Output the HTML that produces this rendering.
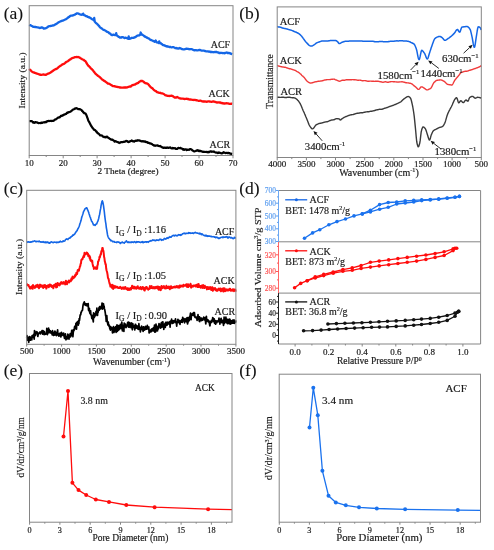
<!DOCTYPE html>
<html><head><meta charset="utf-8"><title>Figure</title>
<style>html,body{margin:0;padding:0;background:#fff;width:494px;height:550px;overflow:hidden}svg{display:block}text{stroke:currentColor;stroke-width:0.18px}</style>
</head><body>
<svg width="494" height="550" viewBox="0 0 494 550" font-family='"Liberation Serif", "Times New Roman", serif'>
<rect width="494" height="550" fill="#fff"/>
<text x="3.7" y="18.6" font-size="17.5" text-anchor="start" fill="#111" color="#111" style="stroke-width:0.1px">(a)</text>
<line x1="29.2" y1="155.5" x2="29.2" y2="158.3" stroke="#858585" stroke-width="1.0"/>
<text x="29.2" y="166.3" font-size="9" text-anchor="middle" fill="#1a1a1a" color="#1a1a1a">10</text>
<line x1="63.2" y1="155.5" x2="63.2" y2="158.3" stroke="#858585" stroke-width="1.0"/>
<text x="63.2" y="166.3" font-size="9" text-anchor="middle" fill="#1a1a1a" color="#1a1a1a">20</text>
<line x1="97.1" y1="155.5" x2="97.1" y2="158.3" stroke="#858585" stroke-width="1.0"/>
<text x="97.1" y="166.3" font-size="9" text-anchor="middle" fill="#1a1a1a" color="#1a1a1a">30</text>
<line x1="131.1" y1="155.5" x2="131.1" y2="158.3" stroke="#858585" stroke-width="1.0"/>
<text x="131.1" y="166.3" font-size="9" text-anchor="middle" fill="#1a1a1a" color="#1a1a1a">40</text>
<line x1="165.1" y1="155.5" x2="165.1" y2="158.3" stroke="#858585" stroke-width="1.0"/>
<text x="165.1" y="166.3" font-size="9" text-anchor="middle" fill="#1a1a1a" color="#1a1a1a">50</text>
<line x1="199" y1="155.5" x2="199" y2="158.3" stroke="#858585" stroke-width="1.0"/>
<text x="199" y="166.3" font-size="9" text-anchor="middle" fill="#1a1a1a" color="#1a1a1a">60</text>
<line x1="233" y1="155.5" x2="233" y2="158.3" stroke="#858585" stroke-width="1.0"/>
<text x="233" y="166.3" font-size="9" text-anchor="middle" fill="#1a1a1a" color="#1a1a1a">70</text>
<line x1="46.2" y1="155.5" x2="46.2" y2="157" stroke="#858585" stroke-width="1.0"/>
<line x1="80.2" y1="155.5" x2="80.2" y2="157" stroke="#858585" stroke-width="1.0"/>
<line x1="114.1" y1="155.5" x2="114.1" y2="157" stroke="#858585" stroke-width="1.0"/>
<line x1="148.1" y1="155.5" x2="148.1" y2="157" stroke="#858585" stroke-width="1.0"/>
<line x1="182" y1="155.5" x2="182" y2="157" stroke="#858585" stroke-width="1.0"/>
<line x1="216" y1="155.5" x2="216" y2="157" stroke="#858585" stroke-width="1.0"/>
<text x="128" y="174.2" font-size="9.26" text-anchor="middle" fill="#1a1a1a" color="#1a1a1a">2 Theta (degree)</text>
<text transform="translate(24.9 80.4) rotate(-90) scale(1 0.86)" font-size="9.6" text-anchor="middle" fill="#1a1a1a" color="#1a1a1a">Intensity (a.u.)</text>
<path d="M29.2 24.9 L29.7 25.2 L30.2 25.2 L30.7 25.2 L31.2 25.8 L31.7 25.8 L32.2 26.2 L32.7 26.4 L33.2 26.8 L33.7 26.9 L34.2 26.8 L34.7 27 L35.2 27 L35.7 27 L36.2 27.2 L36.7 27.2 L37.2 27.4 L37.7 27.4 L38.2 27.4 L38.7 27.7 L39.2 27.7 L39.7 28 L40.2 27.9 L40.7 27.8 L41.2 27.4 L41.7 27.5 L42.2 27.5 L42.7 27.8 L43.2 28.1 L43.7 28.5 L44.2 28.5 L44.7 28.4 L45.2 28.3 L45.7 28.3 L46.2 28 L46.7 27.8 L47.2 27.4 L47.7 27 L48.2 26.6 L48.7 26.3 L49.2 26.2 L49.7 26.1 L50.2 26.1 L50.7 25.9 L51.2 25.8 L51.7 25.8 L52.2 25.6 L52.7 25.5 L53.2 25.5 L53.7 25.3 L54.2 25.2 L54.7 24.7 L55.2 24.6 L55.7 24.3 L56.2 23.9 L56.7 23.8 L57.2 23.3 L57.7 22.9 L58.2 22.6 L58.7 22.3 L59.2 22 L59.7 21.8 L60.2 21.5 L60.7 21.3 L61.2 21 L61.7 21 L62.2 20.7 L62.7 20.7 L63.2 20.5 L63.7 20.2 L64.2 20 L64.7 19.8 L65.2 19.5 L65.7 19.3 L66.2 19.1 L66.7 18.7 L67.2 18.2 L67.7 17.9 L68.2 17.3 L68.7 17.1 L69.2 16.9 L69.7 16.4 L70.2 16 L70.7 15.7 L71.2 15.7 L71.7 15.7 L72.2 15.6 L72.7 15.4 L73.2 15.3 L73.7 15.2 L74.2 14.8 L74.7 14.7 L75.2 14.4 L75.7 13.9 L76.2 13.9 L76.7 13.3 L77.2 13.3 L77.7 13.3 L78.2 13.6 L78.7 13.6 L79.2 14 L79.7 14.3 L80.2 14.5 L80.7 14.6 L81.2 14.7 L81.7 14.8 L82.2 14.5 L82.7 14.6 L83.2 13.6 L83.7 15 L84.2 15.2 L84.7 15.4 L85.2 15.5 L85.7 16 L86.2 16.1 L86.7 16.1 L87.2 16.6 L87.7 16.9 L88.2 16.9 L88.7 17.3 L89.2 17.6 L89.7 17.5 L90.2 17.7 L90.7 18.2 L91.2 18.6 L91.7 18.9 L92.2 19.3 L92.7 19.5 L93.2 19.7 L93.7 20.3 L94.2 17.9 L94.7 21.5 L95.2 22.2 L95.7 22.7 L96.2 23.3 L96.7 23.5 L97.2 24.1 L97.7 24.5 L98.2 25.1 L98.7 25.6 L99.2 26.1 L99.7 26.9 L100.2 27.5 L100.7 27.7 L101.2 28.2 L101.7 28.5 L102.2 28.8 L102.7 29.3 L103.2 29.7 L103.7 29.9 L104.2 30 L104.7 30.2 L105.2 30.5 L105.7 30.7 L106.2 31.3 L106.7 31.6 L107.2 31.9 L107.7 31.9 L108.2 32.3 L108.7 32.6 L109.2 33.2 L109.7 33.4 L110.2 33.6 L110.7 34.2 L111.2 34.8 L111.7 35 L112.2 35.1 L112.7 35 L113.2 34.7 L113.7 34.7 L114.2 34.8 L114.7 35 L115.2 35.1 L115.7 35.2 L116.2 33.2 L116.7 35.5 L117.2 35.7 L117.7 36 L118.2 36.6 L118.7 36.9 L119.2 37 L119.7 37.4 L120.2 37.7 L120.7 37.5 L121.2 37.6 L121.7 37.4 L122.2 37.1 L122.7 37.1 L123.2 37.3 L123.7 37.5 L124.2 38 L124.7 38 L125.2 37.7 L125.7 37.7 L126.2 37.9 L126.7 38.1 L127.2 38.3 L127.7 38.5 L128.2 38.9 L128.7 36.4 L129.2 38.9 L129.7 38.7 L130.2 38.6 L130.7 38.6 L131.2 38 L131.7 38 L132.2 37.8 L132.7 37.9 L133.2 37.9 L133.7 37.6 L134.2 37.6 L134.7 37.4 L135.2 37.1 L135.7 36.9 L136.2 36.5 L136.7 36.1 L137.2 35.8 L137.7 35.6 L138.2 35.5 L138.7 35.3 L139.2 35.4 L139.7 35.1 L140.2 34.7 L140.7 32.5 L141.2 34.6 L141.7 34.2 L142.2 34.6 L142.7 35 L143.2 35.2 L143.7 35.7 L144.2 36.1 L144.7 36.5 L145.2 36.6 L145.7 36.9 L146.2 37.2 L146.7 37.4 L147.2 37.9 L147.7 38 L148.2 38.2 L148.7 38.4 L149.2 38.8 L149.7 39.2 L150.2 39.7 L150.7 39.9 L151.2 40.1 L151.7 40.2 L152.2 40.5 L152.7 40.7 L153.2 41 L153.7 41.1 L154.2 41.4 L154.7 41.8 L155.2 41.6 L155.7 40.5 L156.2 41.9 L156.7 42.3 L157.2 42.3 L157.7 42.4 L158.2 42.7 L158.7 43 L159.2 41.4 L159.7 43.1 L160.2 43.1 L160.7 43.1 L161.2 43.7 L161.7 44 L162.2 44.3 L162.7 44.9 L163.2 45.1 L163.7 45.1 L164.2 45.4 L164.7 45.4 L165.2 45.9 L165.7 46 L166.2 46.3 L166.7 46.2 L167.2 46.6 L167.7 46.5 L168.2 46.7 L168.7 46.7 L169.2 46.9 L169.7 47.1 L170.2 46.8 L170.7 47.1 L171.2 47.3 L171.7 47.3 L172.2 47.3 L172.7 47.1 L173.2 47.2 L173.7 47.2 L174.2 47.5 L174.7 47.7 L175.2 48.1 L175.7 48.2 L176.2 48.3 L176.7 48 L177.2 48.3 L177.7 48.5 L178.2 48.6 L178.7 48.4 L179.2 48.2 L179.7 48 L180.2 48.4 L180.7 48.3 L181.2 48.8 L181.7 49 L182.2 49.1 L182.7 49.2 L183.2 49.4 L183.7 49.3 L184.2 49.4 L184.7 49.2 L185.2 49.1 L185.7 48.9 L186.2 48.9 L186.7 48.6 L187.2 48.8 L187.7 48.8 L188.2 48.9 L188.7 49.1 L189.2 49.1 L189.7 49.3 L190.2 49.2 L190.7 49.2 L191.2 49.1 L191.7 49.2 L192.2 49.3 L192.7 49.5 L193.2 50 L193.7 50.2 L194.2 50.2 L194.7 50.4 L195.2 50.1 L195.7 50.2 L196.2 50.2 L196.7 50.3 L197.2 50.3 L197.7 50.4 L198.2 50.2 L198.7 50.1 L199.2 50 L199.7 49.9 L200.2 50.1 L200.7 50.2 L201.2 50.5 L201.7 50.7 L202.2 50.7 L202.7 50.6 L203.2 50.6 L203.7 50.7 L204.2 50.7 L204.7 50.9 L205.2 51.1 L205.7 51.2 L206.2 51.4 L206.7 51.4 L207.2 51.3 L207.7 51.3 L208.2 51.5 L208.7 51.6 L209.2 51.8 L209.7 51.6 L210.2 51.6 L210.7 52 L211.2 52.1 L211.7 52 L212.2 52 L212.7 52.2 L213.2 52.1 L213.7 52.3 L214.2 52.1 L214.7 52.1 L215.2 51.8 L215.7 51.9 L216.2 52.1 L216.7 52 L217.2 52.3 L217.7 52.4 L218.2 52.5 L218.7 52.6 L219.2 53 L219.7 53 L220.2 53.1 L220.7 52.8 L221.2 52.8 L221.7 52.8 L222.2 53.1 L222.7 53.2 L223.2 53.1 L223.7 53.1 L224.2 53 L224.7 53.3 L225.2 53 L225.7 52.8 L226.2 52.7 L226.7 52.5 L227.2 52.6 L227.7 53 L228.2 53 L228.7 53 L229.2 53 L229.7 53.3 L230.2 53.6 L230.7 53.5 L231.2 53.9 L231.7 54 L232.2 54.2" fill="none" stroke="#1466e6" stroke-width="2.3" stroke-linejoin="round"/>
<path d="M29.2 69 L29.7 69.5 L30.2 70 L30.7 70.2 L31.2 71 L31.7 71.5 L32.2 71.7 L32.7 72.1 L33.2 72.3 L33.7 72.4 L34.2 72.6 L34.7 72.9 L35.2 72.8 L35.7 73.2 L36.2 73.4 L36.7 73.5 L37.2 73.7 L37.7 73.8 L38.2 74 L38.7 74.2 L39.2 74.4 L39.7 74.5 L40.2 74.9 L40.7 74.7 L41.2 74.9 L41.7 74.8 L42.2 74.7 L42.7 74.7 L43.2 74.4 L43.7 74.6 L44.2 74.7 L44.7 74.6 L45.2 74.9 L45.7 74.7 L46.2 74.8 L46.7 74.3 L47.2 74.1 L47.7 73.8 L48.2 73.6 L48.7 73.6 L49.2 73.3 L49.7 73 L50.2 72.7 L50.7 72.3 L51.2 72.1 L51.7 71.6 L52.2 71.4 L52.7 71 L53.2 70.6 L53.7 70.2 L54.2 69.9 L54.7 69.7 L55.2 69.3 L55.7 69.1 L56.2 69 L56.7 68.7 L57.2 68.4 L57.7 68 L58.2 67.4 L58.7 67.1 L59.2 66.7 L59.7 66.3 L60.2 65.9 L60.7 65.8 L61.2 65.2 L61.7 65 L62.2 64.4 L62.7 64.3 L63.2 64.1 L63.7 64 L64.2 63.8 L64.7 63.3 L65.2 62.9 L65.7 62.4 L66.2 62 L66.7 61.7 L67.2 61.5 L67.7 61.2 L68.2 60.9 L68.7 60.5 L69.2 60.1 L69.7 59.8 L70.2 59.4 L70.7 59.2 L71.2 58.7 L71.7 58.3 L72.2 58.2 L72.7 57.9 L73.2 57.8 L73.7 57.7 L74.2 57.5 L74.7 57.1 L75.2 57.1 L75.7 57.2 L76.2 57.1 L76.7 57 L77.2 57 L77.7 57.2 L78.2 57 L78.7 57.2 L79.2 57.4 L79.7 57.6 L80.2 58 L80.7 58.3 L81.2 58.7 L81.7 58.9 L82.2 59.3 L82.7 59.5 L83.2 59.7 L83.7 59.9 L84.2 60.4 L84.7 60.7 L85.2 61 L85.7 61.6 L86.2 62.3 L86.7 63.4 L87.2 64.2 L87.7 64.8 L88.2 65.6 L88.7 66 L89.2 66.4 L89.7 67 L90.2 67.6 L90.7 68.2 L91.2 68.7 L91.7 69 L92.2 69.7 L92.7 70.1 L93.2 70.7 L93.7 71.4 L94.2 72 L94.7 72.7 L95.2 73.3 L95.7 73.9 L96.2 74.3 L96.7 74.8 L97.2 75.3 L97.7 75.6 L98.2 76 L98.7 76.2 L99.2 76.7 L99.7 77.1 L100.2 77.5 L100.7 78 L101.2 78.5 L101.7 79.1 L102.2 79.5 L102.7 79.8 L103.2 80.3 L103.7 80.6 L104.2 80.9 L104.7 81.1 L105.2 81.4 L105.7 81.8 L106.2 82.2 L106.7 82.5 L107.2 83 L107.7 83.4 L108.2 83.7 L108.7 83.7 L109.2 83.8 L109.7 84.1 L110.2 84.3 L110.7 84.7 L111.2 85 L111.7 85.3 L112.2 85.8 L112.7 86.1 L113.2 86.1 L113.7 86.2 L114.2 86.1 L114.7 86.4 L115.2 86.4 L115.7 86.6 L116.2 86.7 L116.7 86.8 L117.2 86.8 L117.7 87 L118.2 87.1 L118.7 87.2 L119.2 87.2 L119.7 87.5 L120.2 87.5 L120.7 87.5 L121.2 87.7 L121.7 87.7 L122.2 87.7 L122.7 87.7 L123.2 87.7 L123.7 87.4 L124.2 87.4 L124.7 87.6 L125.2 87.3 L125.7 87.5 L126.2 87.5 L126.7 87.4 L127.2 87.3 L127.7 87.3 L128.2 86.8 L128.7 86.8 L129.2 86.7 L129.7 86.6 L130.2 86.4 L130.7 86.5 L131.2 86.1 L131.7 85.6 L132.2 85.3 L132.7 85.1 L133.2 85 L133.7 84.8 L134.2 84.7 L134.7 84.6 L135.2 84.4 L135.7 84.1 L136.2 83.7 L136.7 83.6 L137.2 83.2 L137.7 83.1 L138.2 82.9 L138.7 82.3 L139.2 81.9 L139.7 81.7 L140.2 81.3 L140.7 81 L141.2 80.9 L141.7 81.1 L142.2 81 L142.7 81.1 L143.2 81.5 L143.7 81.8 L144.2 82.4 L144.7 82.8 L145.2 83.1 L145.7 83.3 L146.2 83.2 L146.7 83.4 L147.2 83.6 L147.7 83.8 L148.2 84.2 L148.7 84.8 L149.2 85.4 L149.7 86 L150.2 86.6 L150.7 87.1 L151.2 87.5 L151.7 87.9 L152.2 88.1 L152.7 88.6 L153.2 89.2 L153.7 89.7 L154.2 90.2 L154.7 90.6 L155.2 90.8 L155.7 91 L156.2 91.3 L156.7 91.9 L157.2 92.2 L157.7 92.3 L158.2 92.4 L158.7 92.7 L159.2 92.8 L159.7 92.8 L160.2 93.1 L160.7 93 L161.2 93.2 L161.7 93.4 L162.2 93.3 L162.7 93.5 L163.2 93.8 L163.7 94 L164.2 94.2 L164.7 94.7 L165.2 95.2 L165.7 95.3 L166.2 95.4 L166.7 95.6 L167.2 95.7 L167.7 95.9 L168.2 95.9 L168.7 95.8 L169.2 96.1 L169.7 95.8 L170.2 95.8 L170.7 95.8 L171.2 95.7 L171.7 95.7 L172.2 95.9 L172.7 96.1 L173.2 96.4 L173.7 96.8 L174.2 97.2 L174.7 97.5 L175.2 97.6 L175.7 97.5 L176.2 97.5 L176.7 97.4 L177.2 97 L177.7 97.3 L178.2 97.5 L178.7 97.7 L179.2 98.2 L179.7 98.3 L180.2 98.4 L180.7 98.5 L181.2 98.7 L181.7 98.7 L182.2 98.6 L182.7 98.7 L183.2 98.7 L183.7 98.8 L184.2 98.9 L184.7 99 L185.2 98.9 L185.7 98.9 L186.2 98.8 L186.7 98.7 L187.2 98.9 L187.7 99.1 L188.2 99 L188.7 99.4 L189.2 99.4 L189.7 99.5 L190.2 99.4 L190.7 99.6 L191.2 99.6 L191.7 99.7 L192.2 99.8 L192.7 99.9 L193.2 99.8 L193.7 100 L194.2 99.9 L194.7 99.8 L195.2 100 L195.7 100.1 L196.2 100.1 L196.7 100.4 L197.2 100.3 L197.7 100.5 L198.2 100.7 L198.7 100.9 L199.2 100.9 L199.7 100.7 L200.2 100.6 L200.7 100.7 L201.2 100.9 L201.7 101.2 L202.2 101.3 L202.7 101.4 L203.2 101.6 L203.7 101.5 L204.2 101.5 L204.7 101.4 L205.2 101.5 L205.7 101.6 L206.2 101.7 L206.7 101.8 L207.2 101.7 L207.7 101.4 L208.2 101.4 L208.7 101.4 L209.2 101.4 L209.7 101.6 L210.2 101.6 L210.7 101.7 L211.2 101.8 L211.7 101.8 L212.2 101.7 L212.7 101.6 L213.2 101.4 L213.7 101.4 L214.2 101.7 L214.7 101.7 L215.2 102 L215.7 102.1 L216.2 102.3 L216.7 102.5 L217.2 102.5 L217.7 102.4 L218.2 102.4 L218.7 102.4 L219.2 102.5 L219.7 102.4 L220.2 102.5 L220.7 102.6 L221.2 103 L221.7 102.9 L222.2 103.1 L222.7 103.4 L223.2 103.2 L223.7 103.5 L224.2 103.5 L224.7 103.5 L225.2 103.5 L225.7 103.3 L226.2 103.3 L226.7 103.2 L227.2 103.3 L227.7 103.3 L228.2 103.5 L228.7 103.6 L229.2 103.8 L229.7 103.9 L230.2 103.7 L230.7 103.9 L231.2 103.7 L231.7 103.7 L232.2 103.8" fill="none" stroke="#ff0c0c" stroke-width="2.3" stroke-linejoin="round"/>
<path d="M29.2 121.2 L29.7 121.2 L30.2 121.2 L30.7 121.1 L31.2 121.2 L31.7 121 L32.2 121.7 L32.7 121.8 L33.2 122.6 L33.7 122.1 L34.2 122.8 L34.7 122.7 L35.2 122.2 L35.7 122.2 L36.2 122.3 L36.7 122.4 L37.2 122.4 L37.7 122.7 L38.2 123 L38.7 123.2 L39.2 123 L39.7 123 L40.2 123 L40.7 123.1 L41.2 122.6 L41.7 122.6 L42.2 122.9 L42.7 122.5 L43.2 122.4 L43.7 122.4 L44.2 122.4 L44.7 122.1 L45.2 122.4 L45.7 121.8 L46.2 122.1 L46.7 121.4 L47.2 121.1 L47.7 121.3 L48.2 121 L48.7 120.9 L49.2 120.9 L49.7 121.1 L50.2 120.9 L50.7 120.9 L51.2 121.1 L51.7 120.8 L52.2 120.9 L52.7 120.8 L53.2 121 L53.7 120.6 L54.2 120.4 L54.7 119.8 L55.2 119.5 L55.7 119.5 L56.2 118.9 L56.7 118.7 L57.2 118.3 L57.7 117.8 L58.2 117.7 L58.7 117.4 L59.2 117.5 L59.7 117.4 L60.2 116.6 L60.7 116.3 L61.2 115.6 L61.7 115.9 L62.2 115.7 L62.7 115.2 L63.2 115.3 L63.7 114.6 L64.2 114.7 L64.7 114.5 L65.2 114 L65.7 114.1 L66.2 113.9 L66.7 113.1 L67.2 112.7 L67.7 112.8 L68.2 112.4 L68.7 112 L69.2 112.1 L69.7 112 L70.2 111.8 L70.7 111.6 L71.2 111 L71.7 110.8 L72.2 110.3 L72.7 109.8 L73.2 109.6 L73.7 109.4 L74.2 109.1 L74.7 108.5 L75.2 108.7 L75.7 108.4 L76.2 108.5 L76.7 108.2 L77.2 108.5 L77.7 108.7 L78.2 109.2 L78.7 109 L79.2 109 L79.7 109.3 L80.2 109.3 L80.7 109.6 L81.2 109.9 L81.7 110.2 L82.2 111.1 L82.7 111.3 L83.2 112.1 L83.7 112.6 L84.2 113.2 L84.7 113.1 L85.2 113.4 L85.7 113.9 L86.2 114.8 L86.7 115.9 L87.2 117.3 L87.7 118.7 L88.2 120.2 L88.7 121.3 L89.2 122 L89.7 123 L90.2 124.1 L90.7 124.9 L91.2 125.9 L91.7 126.7 L92.2 127.5 L92.7 128.1 L93.2 128.5 L93.7 129.4 L94.2 129.8 L94.7 129.8 L95.2 130.3 L95.7 130.8 L96.2 131.6 L96.7 131.7 L97.2 132.8 L97.7 132.8 L98.2 133.6 L98.7 133.8 L99.2 134.3 L99.7 134.9 L100.2 135.5 L100.7 135.3 L101.2 135.4 L101.7 135.5 L102.2 135.5 L102.7 136.5 L103.2 136.7 L103.7 136.8 L104.2 137.2 L104.7 136.8 L105.2 136.9 L105.7 137.3 L106.2 137.2 L106.7 136.7 L107.2 136.6 L107.7 137.3 L108.2 137.9 L108.7 137.9 L109.2 138.3 L109.7 138.8 L110.2 138.8 L110.7 139.3 L111.2 139.7 L111.7 139.7 L112.2 139.8 L112.7 139.7 L113.2 140.2 L113.7 140.4 L114.2 141.1 L114.7 141.7 L115.2 141.3 L115.7 141.2 L116.2 141.6 L116.7 141.8 L117.2 142 L117.7 142.2 L118.2 142.2 L118.7 142.4 L119.2 143 L119.7 142.5 L120.2 142.7 L120.7 142.2 L121.2 142.2 L121.7 142.1 L122.2 142.1 L122.7 142.2 L123.2 141.8 L123.7 142 L124.2 141.8 L124.7 141.7 L125.2 141.6 L125.7 141 L126.2 140.9 L126.7 141 L127.2 141.3 L127.7 141.8 L128.2 141.7 L128.7 142.1 L129.2 141.9 L129.7 141.6 L130.2 141.1 L130.7 141.1 L131.2 141 L131.7 140.4 L132.2 141.1 L132.7 141.3 L133.2 141.2 L133.7 141.3 L134.2 141.6 L134.7 141.2 L135.2 140.7 L135.7 140.8 L136.2 140.8 L136.7 140.7 L137.2 140.2 L137.7 140.7 L138.2 140.3 L138.7 140.4 L139.2 140.3 L139.7 140.7 L140.2 140.8 L140.7 140.9 L141.2 141.3 L141.7 141.5 L142.2 141.2 L142.7 141.5 L143.2 141.4 L143.7 141.2 L144.2 141.7 L144.7 141.3 L145.2 141.8 L145.7 141.7 L146.2 142.1 L146.7 142 L147.2 142.3 L147.7 142.8 L148.2 142.7 L148.7 142.8 L149.2 143 L149.7 143.5 L150.2 143.3 L150.7 143.5 L151.2 143.8 L151.7 143.9 L152.2 144.2 L152.7 144.7 L153.2 144.9 L153.7 145.1 L154.2 145.6 L154.7 145.6 L155.2 145.8 L155.7 145.6 L156.2 145.6 L156.7 145.4 L157.2 145.6 L157.7 145.3 L158.2 145.7 L158.7 146 L159.2 146.1 L159.7 146.1 L160.2 145.9 L160.7 146.5 L161.2 146.6 L161.7 147.2 L162.2 147.2 L162.7 147.4 L163.2 147.8 L163.7 147.5 L164.2 147.8 L164.7 147.5 L165.2 147.5 L165.7 147.9 L166.2 148 L166.7 147.6 L167.2 147.8 L167.7 147.6 L168.2 147.8 L168.7 147.9 L169.2 147.6 L169.7 147.5 L170.2 147.4 L170.7 147.9 L171.2 148.2 L171.7 148.3 L172.2 148.3 L172.7 147.9 L173.2 148.4 L173.7 148 L174.2 148 L174.7 148.4 L175.2 148.1 L175.7 148.8 L176.2 148.9 L176.7 148.9 L177.2 148.9 L177.7 148.5 L178.2 147.8 L178.7 148 L179.2 148.1 L179.7 148.2 L180.2 147.9 L180.7 147.9 L181.2 148.5 L181.7 148.6 L182.2 148.8 L182.7 148.8 L183.2 149.8 L183.7 149.1 L184.2 149.6 L184.7 149.9 L185.2 149.3 L185.7 149.4 L186.2 149.3 L186.7 150 L187.2 149.7 L187.7 150 L188.2 149.9 L188.7 149.6 L189.2 149.8 L189.7 149.1 L190.2 149.1 L190.7 149.2 L191.2 149.3 L191.7 149.7 L192.2 150.2 L192.7 150.5 L193.2 150.9 L193.7 151.2 L194.2 151.3 L194.7 151.4 L195.2 151 L195.7 151 L196.2 150.7 L196.7 150.4 L197.2 150.6 L197.7 150.2 L198.2 150.5 L198.7 151.1 L199.2 150.7 L199.7 151.1 L200.2 150.8 L200.7 151.1 L201.2 151.1 L201.7 151.5 L202.2 151.6 L202.7 151.7 L203.2 152 L203.7 151.8 L204.2 151.9 L204.7 151.9 L205.2 152 L205.7 152 L206.2 151.8 L206.7 152.1 L207.2 152.3 L207.7 152 L208.2 151.8 L208.7 152.3 L209.2 151.9 L209.7 151.8 L210.2 151.4 L210.7 151.3 L211.2 151.3 L211.7 151.9 L212.2 151.6 L212.7 151.5 L213.2 151.6 L213.7 151.8 L214.2 151.6 L214.7 152.1 L215.2 152.4 L215.7 152.5 L216.2 152.7 L216.7 152.5 L217.2 152.5 L217.7 153.1 L218.2 153 L218.7 152.4 L219.2 152.7 L219.7 152.7 L220.2 153 L220.7 153.1 L221.2 153.2 L221.7 153.4 L222.2 153.3 L222.7 153.1 L223.2 152.5 L223.7 152.2 L224.2 152.7 L224.7 152.6 L225.2 153 L225.7 153.1 L226.2 153 L226.7 152.8 L227.2 152.9 L227.7 153.2 L228.2 152.8 L228.7 153.1 L229.2 153.1 L229.7 153.2 L230.2 153.7 L230.7 153.5 L231.2 154 L231.7 153.9 L232.2 154" fill="none" stroke="#000000" stroke-width="2.2" stroke-linejoin="round"/>
<rect x="29.2" y="5.7" width="203.8" height="149.8" fill="none" stroke="#858585" stroke-width="1.0"/>
<text x="210.7" y="48.2" font-size="10" text-anchor="start" fill="#1a1a1a" color="#1a1a1a">ACF</text>
<text x="208.5" y="97.2" font-size="10" text-anchor="start" fill="#1a1a1a" color="#1a1a1a">ACK</text>
<text x="209.6" y="147.6" font-size="10" text-anchor="start" fill="#1a1a1a" color="#1a1a1a">ACR</text>
<text x="239.2" y="18.6" font-size="17.5" text-anchor="start" fill="#111" color="#111" style="stroke-width:0.1px">(b)</text>
<line x1="277.2" y1="157.5" x2="277.2" y2="160.3" stroke="#858585" stroke-width="1.0"/>
<text x="277.2" y="167.2" font-size="9" text-anchor="middle" fill="#1a1a1a" color="#1a1a1a">4000</text>
<line x1="306.4" y1="157.5" x2="306.4" y2="160.3" stroke="#858585" stroke-width="1.0"/>
<text x="306.4" y="167.2" font-size="9" text-anchor="middle" fill="#1a1a1a" color="#1a1a1a">3500</text>
<line x1="335.5" y1="157.5" x2="335.5" y2="160.3" stroke="#858585" stroke-width="1.0"/>
<text x="335.5" y="167.2" font-size="9" text-anchor="middle" fill="#1a1a1a" color="#1a1a1a">3000</text>
<line x1="364.7" y1="157.5" x2="364.7" y2="160.3" stroke="#858585" stroke-width="1.0"/>
<text x="364.7" y="167.2" font-size="9" text-anchor="middle" fill="#1a1a1a" color="#1a1a1a">2500</text>
<line x1="393.8" y1="157.5" x2="393.8" y2="160.3" stroke="#858585" stroke-width="1.0"/>
<text x="393.8" y="167.2" font-size="9" text-anchor="middle" fill="#1a1a1a" color="#1a1a1a">2000</text>
<line x1="423" y1="157.5" x2="423" y2="160.3" stroke="#858585" stroke-width="1.0"/>
<text x="423" y="167.2" font-size="9" text-anchor="middle" fill="#1a1a1a" color="#1a1a1a">1500</text>
<line x1="452.1" y1="157.5" x2="452.1" y2="160.3" stroke="#858585" stroke-width="1.0"/>
<text x="452.1" y="167.2" font-size="9" text-anchor="middle" fill="#1a1a1a" color="#1a1a1a">1000</text>
<line x1="481.3" y1="157.5" x2="481.3" y2="160.3" stroke="#858585" stroke-width="1.0"/>
<text x="481.3" y="167.2" font-size="9" text-anchor="middle" fill="#1a1a1a" color="#1a1a1a">500</text>
<line x1="291.8" y1="157.5" x2="291.8" y2="159.1" stroke="#858585" stroke-width="1.0"/>
<line x1="320.9" y1="157.5" x2="320.9" y2="159.1" stroke="#858585" stroke-width="1.0"/>
<line x1="350.1" y1="157.5" x2="350.1" y2="159.1" stroke="#858585" stroke-width="1.0"/>
<line x1="379.2" y1="157.5" x2="379.2" y2="159.1" stroke="#858585" stroke-width="1.0"/>
<line x1="408.4" y1="157.5" x2="408.4" y2="159.1" stroke="#858585" stroke-width="1.0"/>
<line x1="437.6" y1="157.5" x2="437.6" y2="159.1" stroke="#858585" stroke-width="1.0"/>
<line x1="466.7" y1="157.5" x2="466.7" y2="159.1" stroke="#858585" stroke-width="1.0"/>
<text x="379" y="176.2" font-size="10.0" text-anchor="middle" fill="#1a1a1a" color="#1a1a1a">Wavenumber (cm<tspan font-size="6.2" dy="-3.8">-1</tspan><tspan dy="3.8">)</tspan></text>
<text transform="translate(273.2 81.4) rotate(-90)" font-size="9.6" text-anchor="middle" fill="#1a1a1a" color="#1a1a1a">Transmittance</text>
<path d="M277.2 26.6 L277.7 26.7 L278.2 26.9 L278.7 26.9 L279.2 27 L279.7 27.1 L280.2 27.2 L280.7 27.3 L281.2 27.5 L281.7 27.7 L282.2 27.9 L282.7 28 L283.2 28.2 L283.7 28.3 L284.2 28.4 L284.7 28.5 L285.2 28.6 L285.7 28.7 L286.2 28.8 L286.7 28.9 L287.2 29 L287.7 29.2 L288.2 29.4 L288.7 29.6 L289.2 29.7 L289.7 29.8 L290.2 29.9 L290.7 30.1 L291.2 30.2 L291.7 30.4 L292.2 30.6 L292.7 30.8 L293.2 31 L293.7 31.3 L294.2 31.5 L294.7 31.7 L295.2 31.9 L295.7 32 L296.2 32.2 L296.7 32.5 L297.2 32.7 L297.7 33 L298.2 33.3 L298.7 33.5 L299.2 33.9 L299.7 34.3 L300.2 34.7 L300.7 35.2 L301.2 35.8 L301.7 36.3 L302.2 37 L302.7 37.6 L303.2 38.4 L303.7 39.1 L304.2 39.7 L304.7 40.4 L305.2 41 L305.7 41.7 L306.2 42.3 L306.7 42.8 L307.2 43.4 L307.7 43.9 L308.2 44.4 L308.7 44.9 L309.2 45.3 L309.7 45.6 L310.2 45.9 L310.7 46.1 L311.2 46.1 L311.7 46 L312.2 45.9 L312.7 45.7 L313.2 45.4 L313.7 45.1 L314.2 44.7 L314.7 44.4 L315.2 44 L315.7 43.6 L316.2 43.2 L316.7 42.9 L317.2 42.6 L317.7 42.4 L318.2 42.3 L318.7 42.1 L319.2 42 L319.7 41.8 L320.2 41.6 L320.7 41.4 L321.2 41.2 L321.7 41.1 L322.2 41.1 L322.7 41.1 L323.2 41.1 L323.7 41.1 L324.2 41.1 L324.7 41.1 L325.2 41.1 L325.7 41.1 L326.2 41 L326.7 41 L327.2 40.9 L327.7 40.9 L328.2 40.9 L328.7 40.8 L329.2 40.8 L329.7 40.7 L330.2 40.6 L330.7 40.6 L331.2 40.6 L331.7 40.5 L332.2 40.5 L332.7 40.5 L333.2 40.5 L333.7 40.5 L334.2 40.5 L334.7 40.4 L335.2 40.4 L335.7 40.5 L336.2 40.7 L336.7 41 L337.2 41.4 L337.7 41.8 L338.2 42.5 L338.7 43.2 L339.2 43.6 L339.7 43.6 L340.2 43.4 L340.7 43.1 L341.2 42.7 L341.7 42.4 L342.2 42.2 L342.7 42 L343.2 41.9 L343.7 41.7 L344.2 41.5 L344.7 41.4 L345.2 41.3 L345.7 41.2 L346.2 41.2 L346.7 41.3 L347.2 41.3 L347.7 41.3 L348.2 41.3 L348.7 41.2 L349.2 41.1 L349.7 41.1 L350.2 41 L350.7 41 L351.2 41 L351.7 41 L352.2 41 L352.7 41 L353.2 41 L353.7 41 L354.2 41 L354.7 41 L355.2 41 L355.7 41 L356.2 41 L356.7 41 L357.2 41 L357.7 41 L358.2 41.1 L358.7 41.1 L359.2 41.1 L359.7 41 L360.2 41 L360.7 41 L361.2 41 L361.7 41.1 L362.2 41.1 L362.7 41.2 L363.2 41.2 L363.7 41.3 L364.2 41.3 L364.7 41.3 L365.2 41.3 L365.7 41.3 L366.2 41.3 L366.7 41.2 L367.2 41.2 L367.7 41.2 L368.2 41.2 L368.7 41.2 L369.2 41.2 L369.7 41.3 L370.2 41.3 L370.7 41.3 L371.2 41.3 L371.7 41.3 L372.2 41.3 L372.7 41.3 L373.2 41.3 L373.7 41.4 L374.2 41.5 L374.7 41.7 L375.2 41.8 L375.7 41.8 L376.2 41.8 L376.7 41.8 L377.2 41.8 L377.7 41.7 L378.2 41.7 L378.7 41.7 L379.2 41.6 L379.7 41.5 L380.2 41.5 L380.7 41.5 L381.2 41.5 L381.7 41.5 L382.2 41.6 L382.7 41.6 L383.2 41.7 L383.7 41.7 L384.2 41.7 L384.7 41.7 L385.2 41.7 L385.7 41.7 L386.2 41.8 L386.7 41.8 L387.2 41.8 L387.7 41.8 L388.2 41.7 L388.7 41.5 L389.2 41.4 L389.7 41.4 L390.2 41.3 L390.7 41.3 L391.2 41.3 L391.7 41.3 L392.2 41.2 L392.7 41.2 L393.2 41.2 L393.7 41.2 L394.2 41.2 L394.7 41.1 L395.2 41 L395.7 40.9 L396.2 40.9 L396.7 40.8 L397.2 40.8 L397.7 40.9 L398.2 40.9 L398.7 40.9 L399.2 40.8 L399.7 40.8 L400.2 40.8 L400.7 40.7 L401.2 40.7 L401.7 40.7 L402.2 40.8 L402.7 40.8 L403.2 40.9 L403.7 40.9 L404.2 40.9 L404.7 40.9 L405.2 40.9 L405.7 41 L406.2 41.1 L406.7 41.1 L407.2 41.2 L407.7 41.2 L408.2 41.3 L408.7 41.4 L409.2 41.6 L409.7 41.8 L410.2 42 L410.7 42.3 L411.2 42.6 L411.7 42.8 L412.2 43 L412.7 43.3 L413.2 43.5 L413.7 43.8 L414.2 44.2 L414.7 45 L415.2 46 L415.7 47.2 L416.2 48.5 L416.7 50.2 L417.2 52.7 L417.7 55.3 L418.2 57.7 L418.7 59.2 L419.2 59.6 L419.7 58.4 L420.2 56.2 L420.7 53.6 L421.2 51.4 L421.7 50.3 L422.2 50.5 L422.7 50.9 L423.2 51.6 L423.7 52.2 L424.2 52.9 L424.7 53.6 L425.2 54.7 L425.7 56 L426.2 57.4 L426.7 58.5 L427.2 59 L427.7 58.7 L428.2 57.5 L428.7 55.8 L429.2 54 L429.7 52.5 L430.2 50.9 L430.7 49.4 L431.2 47.8 L431.7 46.4 L432.2 45 L432.7 43.6 L433.2 42.2 L433.7 40.8 L434.2 39.7 L434.7 38.8 L435.2 38.3 L435.7 37.9 L436.2 37.6 L436.7 37.3 L437.2 37.1 L437.7 36.9 L438.2 36.7 L438.7 36.5 L439.2 36.4 L439.7 36.4 L440.2 36.5 L440.7 36.7 L441.2 37 L441.7 37.3 L442.2 37.7 L442.7 38.2 L443.2 38.8 L443.7 39.5 L444.2 40 L444.7 40.3 L445.2 40.3 L445.7 40.2 L446.2 39.9 L446.7 39.5 L447.2 39.2 L447.7 38.8 L448.2 38.4 L448.7 38.1 L449.2 37.8 L449.7 37.4 L450.2 37 L450.7 36.7 L451.2 36.2 L451.7 35.8 L452.2 35.3 L452.7 34.9 L453.2 34.4 L453.7 33.9 L454.2 33.4 L454.7 32.7 L455.2 32 L455.7 31.2 L456.2 30.4 L456.7 29.9 L457.2 29.5 L457.7 29.5 L458.2 30.3 L458.7 31.3 L459.2 31.9 L459.7 32.2 L460.2 31.6 L460.7 30.1 L461.2 28.5 L461.7 27.3 L462.2 27.1 L462.7 27 L463.2 26.9 L463.7 26.8 L464.2 26.8 L464.7 26.7 L465.2 26.7 L465.7 26.6 L466.2 26.6 L466.7 26.6 L467.2 26.6 L467.7 26.7 L468.2 27.1 L468.7 27.5 L469.2 28.1 L469.7 28.8 L470.2 29.6 L470.7 31.1 L471.2 33.2 L471.7 35.4 L472.2 37.7 L472.7 40.5 L473.2 43.4 L473.7 45.9 L474.2 47.3 L474.7 46.9 L475.2 44.4 L475.7 40.9 L476.2 37.4 L476.7 34.4 L477.2 31 L477.7 28.2 L478.2 26.8 L478.7 26.9 L479.2 27 L479.7 27.2 L480.2 27.7 L480.7 28.7 L481.2 30.1" fill="none" stroke="#1466e6" stroke-width="1.5" stroke-linejoin="round"/>
<path d="M277.2 65.5 L277.7 65.6 L278.2 65.8 L278.7 66.1 L279.2 66.2 L279.7 66.3 L280.2 66.4 L280.7 66.6 L281.2 66.7 L281.7 66.8 L282.2 66.9 L282.7 67 L283.2 67 L283.7 67.1 L284.2 67.2 L284.7 67.2 L285.2 67.3 L285.7 67.4 L286.2 67.6 L286.7 67.8 L287.2 68 L287.7 68.2 L288.2 68.4 L288.7 68.5 L289.2 68.7 L289.7 68.8 L290.2 68.8 L290.7 68.9 L291.2 69.1 L291.7 69.2 L292.2 69.4 L292.7 69.6 L293.2 69.8 L293.7 69.9 L294.2 70.1 L294.7 70.2 L295.2 70.5 L295.7 70.7 L296.2 71 L296.7 71.4 L297.2 71.7 L297.7 71.9 L298.2 72.2 L298.7 72.5 L299.2 72.8 L299.7 73.2 L300.2 73.7 L300.7 74.1 L301.2 74.6 L301.7 75.2 L302.2 75.7 L302.7 76.1 L303.2 76.6 L303.7 77 L304.2 77.5 L304.7 78.1 L305.2 78.8 L305.7 79.5 L306.2 80.2 L306.7 80.7 L307.2 81.2 L307.7 81.6 L308.2 82 L308.7 82.3 L309.2 82.7 L309.7 82.9 L310.2 83 L310.7 83.1 L311.2 83 L311.7 82.9 L312.2 82.8 L312.7 82.7 L313.2 82.5 L313.7 82.4 L314.2 82.2 L314.7 82 L315.2 81.9 L315.7 81.8 L316.2 81.7 L316.7 81.6 L317.2 81.5 L317.7 81.4 L318.2 81.3 L318.7 81.2 L319.2 81.2 L319.7 81.1 L320.2 81.1 L320.7 81 L321.2 81 L321.7 80.9 L322.2 80.8 L322.7 80.7 L323.2 80.5 L323.7 80.3 L324.2 80.1 L324.7 80 L325.2 80 L325.7 79.9 L326.2 79.8 L326.7 79.7 L327.2 79.6 L327.7 79.6 L328.2 79.6 L328.7 79.6 L329.2 79.6 L329.7 79.6 L330.2 79.5 L330.7 79.5 L331.2 79.4 L331.7 79.3 L332.2 79.3 L332.7 79.2 L333.2 79.1 L333.7 79.1 L334.2 79.2 L334.7 79.3 L335.2 79.6 L335.7 79.8 L336.2 80 L336.7 80.2 L337.2 80.4 L337.7 80.6 L338.2 80.8 L338.7 81 L339.2 81.1 L339.7 81.2 L340.2 81.1 L340.7 80.9 L341.2 80.6 L341.7 80.4 L342.2 80.3 L342.7 80.3 L343.2 80.3 L343.7 80.3 L344.2 80.3 L344.7 80.2 L345.2 80.1 L345.7 79.9 L346.2 79.8 L346.7 79.7 L347.2 79.7 L347.7 79.8 L348.2 79.8 L348.7 79.8 L349.2 79.8 L349.7 79.8 L350.2 79.8 L350.7 79.8 L351.2 79.8 L351.7 79.7 L352.2 79.6 L352.7 79.6 L353.2 79.6 L353.7 79.7 L354.2 79.8 L354.7 79.8 L355.2 79.8 L355.7 79.9 L356.2 79.9 L356.7 80 L357.2 80.1 L357.7 80.2 L358.2 80.2 L358.7 80.2 L359.2 80.1 L359.7 80.1 L360.2 80.2 L360.7 80.3 L361.2 80.4 L361.7 80.6 L362.2 80.7 L362.7 80.7 L363.2 80.7 L363.7 80.6 L364.2 80.6 L364.7 80.6 L365.2 80.6 L365.7 80.7 L366.2 80.9 L366.7 81 L367.2 81.1 L367.7 81.2 L368.2 81.3 L368.7 81.2 L369.2 81.2 L369.7 81.1 L370.2 81.1 L370.7 81.1 L371.2 81.1 L371.7 81.2 L372.2 81.2 L372.7 81.3 L373.2 81.3 L373.7 81.3 L374.2 81.4 L374.7 81.4 L375.2 81.3 L375.7 81.2 L376.2 81.2 L376.7 81.2 L377.2 81.2 L377.7 81.2 L378.2 81.3 L378.7 81.4 L379.2 81.5 L379.7 81.6 L380.2 81.7 L380.7 81.7 L381.2 81.8 L381.7 82 L382.2 82.1 L382.7 82.2 L383.2 82.2 L383.7 82.1 L384.2 82 L384.7 81.9 L385.2 81.8 L385.7 81.8 L386.2 81.9 L386.7 82.1 L387.2 82.2 L387.7 82.2 L388.2 82.2 L388.7 82.2 L389.2 82 L389.7 81.9 L390.2 81.8 L390.7 81.7 L391.2 81.6 L391.7 81.6 L392.2 81.6 L392.7 81.6 L393.2 81.7 L393.7 81.7 L394.2 81.7 L394.7 81.8 L395.2 81.9 L395.7 81.9 L396.2 81.9 L396.7 82 L397.2 82 L397.7 82.1 L398.2 82.1 L398.7 82 L399.2 82 L399.7 81.9 L400.2 81.9 L400.7 81.9 L401.2 81.9 L401.7 81.8 L402.2 81.8 L402.7 81.9 L403.2 82 L403.7 82.1 L404.2 82.2 L404.7 82.3 L405.2 82.5 L405.7 82.7 L406.2 82.8 L406.7 82.8 L407.2 82.9 L407.7 82.9 L408.2 82.9 L408.7 83 L409.2 83.1 L409.7 83.2 L410.2 83.3 L410.7 83.4 L411.2 83.6 L411.7 83.8 L412.2 84.1 L412.7 84.5 L413.2 85 L413.7 85.4 L414.2 85.9 L414.7 86.2 L415.2 86.6 L415.7 87 L416.2 87.5 L416.7 88.1 L417.2 88.6 L417.7 89.1 L418.2 89.4 L418.7 89.4 L419.2 89.1 L419.7 88.5 L420.2 87.8 L420.7 87.2 L421.2 86.9 L421.7 86.9 L422.2 87 L422.7 87.2 L423.2 87.5 L423.7 87.8 L424.2 88.1 L424.7 88.5 L425.2 88.9 L425.7 89.3 L426.2 89.7 L426.7 89.9 L427.2 89.9 L427.7 89.9 L428.2 89.7 L428.7 89.4 L429.2 89.1 L429.7 88.9 L430.2 88.6 L430.7 88.3 L431.2 87.7 L431.7 86.9 L432.2 85.9 L432.7 84.8 L433.2 83.8 L433.7 82.9 L434.2 82.3 L434.7 81.9 L435.2 81.4 L435.7 81 L436.2 80.6 L436.7 80.4 L437.2 80.3 L437.7 80.2 L438.2 80.1 L438.7 80.1 L439.2 80 L439.7 80 L440.2 79.9 L440.7 79.9 L441.2 80 L441.7 80.1 L442.2 80.3 L442.7 80.5 L443.2 80.8 L443.7 81.1 L444.2 81.4 L444.7 81.8 L445.2 82.3 L445.7 82.8 L446.2 83.3 L446.7 83.7 L447.2 84.1 L447.7 84.4 L448.2 84.5 L448.7 84.6 L449.2 84.6 L449.7 84.7 L450.2 84.8 L450.7 84.9 L451.2 85 L451.7 85.1 L452.2 84.8 L452.7 84.1 L453.2 83.3 L453.7 82.3 L454.2 81.3 L454.7 80.4 L455.2 79.7 L455.7 79.1 L456.2 78.5 L456.7 77.9 L457.2 77.3 L457.7 76.7 L458.2 76.1 L458.7 75.5 L459.2 74.9 L459.7 74.2 L460.2 73.5 L460.7 72.9 L461.2 72.5 L461.7 72.2 L462.2 72.1 L462.7 72 L463.2 71.9 L463.7 71.7 L464.2 71.5 L464.7 71.4 L465.2 71.3 L465.7 71.3 L466.2 71.3 L466.7 71.2 L467.2 71.1 L467.7 71 L468.2 70.8 L468.7 70.6 L469.2 70.4 L469.7 70.3 L470.2 70.2 L470.7 70 L471.2 69.9 L471.7 69.7 L472.2 69.6 L472.7 69.4 L473.2 69.2 L473.7 69 L474.2 68.9 L474.7 68.7 L475.2 68.5 L475.7 68.3 L476.2 68.1 L476.7 67.9 L477.2 67.8 L477.7 67.6 L478.2 67.4 L478.7 67.2 L479.2 67 L479.7 66.7 L480.2 66.4 L480.7 66 L481.2 65.6" fill="none" stroke="#f03a3a" stroke-width="1.4" stroke-linejoin="round"/>
<path d="M277.2 97.3 L277.7 97.3 L278.2 97.3 L278.7 97.3 L279.2 97.3 L279.7 97.4 L280.2 97.4 L280.7 97.4 L281.2 97.4 L281.7 97.3 L282.2 97.3 L282.7 97.2 L283.2 97.2 L283.7 97.3 L284.2 97.4 L284.7 97.5 L285.2 97.5 L285.7 97.6 L286.2 97.5 L286.7 97.5 L287.2 97.4 L287.7 97.3 L288.2 97.3 L288.7 97.2 L289.2 97.2 L289.7 97.3 L290.2 97.4 L290.7 97.5 L291.2 97.6 L291.7 97.6 L292.2 97.7 L292.7 97.8 L293.2 97.8 L293.7 97.8 L294.2 97.9 L294.7 98 L295.2 98.2 L295.7 98.5 L296.2 98.8 L296.7 99.2 L297.2 99.6 L297.7 100.2 L298.2 100.7 L298.7 101.4 L299.2 102.1 L299.7 102.8 L300.2 103.6 L300.7 104.7 L301.2 105.8 L301.7 107 L302.2 108.3 L302.7 109.5 L303.2 110.7 L303.7 111.7 L304.2 112.8 L304.7 114 L305.2 115.1 L305.7 116.4 L306.2 117.6 L306.7 118.8 L307.2 120 L307.7 121.3 L308.2 122.6 L308.7 123.9 L309.2 125 L309.7 125.9 L310.2 126.7 L310.7 127.4 L311.2 128.1 L311.7 128.6 L312.2 128.9 L312.7 128.8 L313.2 128.5 L313.7 128 L314.2 127.3 L314.7 126.6 L315.2 125.9 L315.7 125.3 L316.2 124.8 L316.7 124.5 L317.2 124.3 L317.7 124.1 L318.2 123.9 L318.7 123.7 L319.2 123.5 L319.7 123.4 L320.2 123.3 L320.7 123.2 L321.2 123.1 L321.7 123 L322.2 122.9 L322.7 122.7 L323.2 122.6 L323.7 122.4 L324.2 122.2 L324.7 122.1 L325.2 122 L325.7 121.9 L326.2 121.9 L326.7 121.8 L327.2 121.7 L327.7 121.6 L328.2 121.4 L328.7 121.2 L329.2 120.9 L329.7 120.7 L330.2 120.5 L330.7 120.3 L331.2 120.1 L331.7 120 L332.2 120 L332.7 119.9 L333.2 119.9 L333.7 119.8 L334.2 119.7 L334.7 119.4 L335.2 119.1 L335.7 118.9 L336.2 118.7 L336.7 118.6 L337.2 118.6 L337.7 118.7 L338.2 118.8 L338.7 118.9 L339.2 119 L339.7 119.4 L340.2 120 L340.7 119.9 L341.2 119.4 L341.7 119 L342.2 118.6 L342.7 118.3 L343.2 118 L343.7 117.7 L344.2 117.4 L344.7 117.2 L345.2 116.9 L345.7 116.7 L346.2 116.5 L346.7 116.3 L347.2 116.1 L347.7 115.9 L348.2 115.7 L348.7 115.5 L349.2 115.3 L349.7 115.1 L350.2 115 L350.7 114.9 L351.2 114.8 L351.7 114.7 L352.2 114.6 L352.7 114.6 L353.2 114.5 L353.7 114.3 L354.2 114.2 L354.7 114 L355.2 113.8 L355.7 113.6 L356.2 113.5 L356.7 113.4 L357.2 113.3 L357.7 113.2 L358.2 113.2 L358.7 113.1 L359.2 113 L359.7 113 L360.2 112.9 L360.7 112.8 L361.2 112.8 L361.7 112.8 L362.2 112.8 L362.7 112.7 L363.2 112.6 L363.7 112.4 L364.2 112.3 L364.7 112.2 L365.2 112.1 L365.7 112 L366.2 111.9 L366.7 111.9 L367.2 111.8 L367.7 111.8 L368.2 111.8 L368.7 111.7 L369.2 111.6 L369.7 111.5 L370.2 111.4 L370.7 111.3 L371.2 111.2 L371.7 111.2 L372.2 111.1 L372.7 111 L373.2 110.9 L373.7 110.8 L374.2 110.7 L374.7 110.5 L375.2 110.3 L375.7 110.2 L376.2 110 L376.7 109.9 L377.2 109.8 L377.7 109.7 L378.2 109.6 L378.7 109.5 L379.2 109.4 L379.7 109.3 L380.2 109.3 L380.7 109.4 L381.2 109.4 L381.7 109.3 L382.2 109.2 L382.7 109 L383.2 108.8 L383.7 108.6 L384.2 108.4 L384.7 108.2 L385.2 108.1 L385.7 108 L386.2 107.9 L386.7 107.7 L387.2 107.5 L387.7 107.3 L388.2 107.1 L388.7 106.9 L389.2 106.7 L389.7 106.5 L390.2 106.3 L390.7 106.1 L391.2 106 L391.7 105.9 L392.2 105.7 L392.7 105.5 L393.2 105.3 L393.7 105.1 L394.2 104.9 L394.7 104.7 L395.2 104.5 L395.7 104.3 L396.2 104 L396.7 103.8 L397.2 103.6 L397.7 103.4 L398.2 103.2 L398.7 102.9 L399.2 102.7 L399.7 102.4 L400.2 102.2 L400.7 101.9 L401.2 101.5 L401.7 101 L402.2 100.5 L402.7 100 L403.2 99.5 L403.7 99.1 L404.2 98.7 L404.7 98.4 L405.2 98 L405.7 97.7 L406.2 97.3 L406.7 97 L407.2 96.7 L407.7 96.6 L408.2 96.5 L408.7 96.6 L409.2 96.8 L409.7 97.2 L410.2 97.8 L410.7 98.5 L411.2 99.9 L411.7 102 L412.2 104.2 L412.7 106.5 L413.2 109.3 L413.7 112.5 L414.2 116.2 L414.7 120.8 L415.2 125.9 L415.7 131 L416.2 136.7 L416.7 141.5 L417.2 144.1 L417.7 145.9 L418.2 146.8 L418.7 146.5 L419.2 145.1 L419.7 143.3 L420.2 140.4 L420.7 135.9 L421.2 131.8 L421.7 129.8 L422.2 128.2 L422.7 127.2 L423.2 126.9 L423.7 127.1 L424.2 127.4 L424.7 127.9 L425.2 128.5 L425.7 129.4 L426.2 130.8 L426.7 132.4 L427.2 134 L427.7 135.5 L428.2 137.2 L428.7 138.8 L429.2 139.9 L429.7 140.1 L430.2 138.8 L430.7 136.8 L431.2 135.1 L431.7 133.9 L432.2 132.7 L432.7 131.7 L433.2 131 L433.7 130.5 L434.2 130.2 L434.7 129.9 L435.2 129.6 L435.7 129.4 L436.2 129.2 L436.7 128.9 L437.2 128.6 L437.7 128.3 L438.2 128 L438.7 127.8 L439.2 127.6 L439.7 127.4 L440.2 127.3 L440.7 127.1 L441.2 127 L441.7 126.8 L442.2 126.6 L442.7 126.3 L443.2 125.9 L443.7 125.2 L444.2 124.2 L444.7 123.3 L445.2 122 L445.7 120.4 L446.2 118.6 L446.7 116.9 L447.2 115.3 L447.7 113.9 L448.2 112.8 L448.7 111.7 L449.2 110.7 L449.7 109.8 L450.2 108.8 L450.7 107.9 L451.2 107 L451.7 106 L452.2 105 L452.7 103.8 L453.2 102.6 L453.7 101.5 L454.2 100.4 L454.7 99.5 L455.2 98.8 L455.7 98.3 L456.2 97.8 L456.7 97.8 L457.2 98.7 L457.7 100.3 L458.2 102 L458.7 102.9 L459.2 102.7 L459.7 101.9 L460.2 101.1 L460.7 100.7 L461.2 100.9 L461.7 101.3 L462.2 101.9 L462.7 102.4 L463.2 102.6 L463.7 102.5 L464.2 102 L464.7 101.2 L465.2 100.5 L465.7 100.1 L466.2 100 L466.7 100.4 L467.2 100.9 L467.7 101.2 L468.2 101 L468.7 99.8 L469.2 98.3 L469.7 97.5 L470.2 97.2 L470.7 97 L471.2 96.7 L471.7 96.5 L472.2 96.4 L472.7 96.4 L473.2 96.7 L473.7 97.1 L474.2 97.6 L474.7 98 L475.2 98.2 L475.7 98.1 L476.2 97.9 L476.7 97.7 L477.2 97.4 L477.7 97.3 L478.2 97.4 L478.7 97.4 L479.2 97.5 L479.7 97.6 L480.2 97.7 L480.7 98 L481.2 98.2" fill="none" stroke="#3a3a3a" stroke-width="1.4" stroke-linejoin="round"/>
<rect x="277.2" y="6.9" width="204.1" height="150.6" fill="none" stroke="#858585" stroke-width="1.0"/>
<text x="279.7" y="24.5" font-size="10.5" text-anchor="start" fill="#1a1a1a" color="#1a1a1a">ACF</text>
<text x="279.7" y="64" font-size="10.5" text-anchor="start" fill="#1a1a1a" color="#1a1a1a">ACK</text>
<text x="280.4" y="94.5" font-size="10.5" text-anchor="start" fill="#1a1a1a" color="#1a1a1a">ACR</text>
<text x="377.5" y="78.5" font-size="10.8" text-anchor="start" fill="#1a1a1a" color="#1a1a1a">1580cm<tspan font-size="6.7" dy="-4.1">&#8722;1</tspan></text>
<text x="420.6" y="76.6" font-size="10.8" text-anchor="start" fill="#1a1a1a" color="#1a1a1a">1440cm<tspan font-size="6.7" dy="-4.1">&#8722;1</tspan></text>
<text x="442" y="61.8" font-size="10.8" text-anchor="start" fill="#1a1a1a" color="#1a1a1a">630cm<tspan font-size="6.7" dy="-4.1">&#8722;1</tspan></text>
<text x="304.8" y="150.2" font-size="10.8" text-anchor="start" fill="#1a1a1a" color="#1a1a1a">3400cm<tspan font-size="6.7" dy="-4.1">-1</tspan></text>
<text x="434.5" y="155.4" font-size="10.8" text-anchor="start" fill="#1a1a1a" color="#1a1a1a">1380cm<tspan font-size="6.7" dy="-4.1">&#8722;1</tspan></text>
<line x1="410.6" y1="70" x2="415.8" y2="64.6" stroke="#111" stroke-width="0.9"/>
<path d="M418.6 61.7 L417.1 65.8 L414.5 63.3 Z" fill="#111"/>
<line x1="438.8" y1="68.4" x2="431.4" y2="62.8" stroke="#111" stroke-width="0.9"/>
<path d="M428.2 60.4 L432.5 61.4 L430.3 64.2 Z" fill="#111"/>
<line x1="463.6" y1="53.2" x2="469.7" y2="47.5" stroke="#111" stroke-width="0.9"/>
<path d="M472.6 44.8 L470.9 48.8 L468.4 46.2 Z" fill="#111"/>
<line x1="322.2" y1="140.8" x2="316.2" y2="134" stroke="#111" stroke-width="0.9"/>
<path d="M313.5 131 L317.5 132.8 L314.8 135.2 Z" fill="#111"/>
<line x1="441" y1="149" x2="433.7" y2="143.3" stroke="#111" stroke-width="0.9"/>
<path d="M430.6 140.8 L434.9 141.9 L432.6 144.7 Z" fill="#111"/>
<text x="3.7" y="193.7" font-size="17.5" text-anchor="start" fill="#111" color="#111" style="stroke-width:0.1px">(c)</text>
<line x1="26.7" y1="344.3" x2="26.7" y2="346.6" stroke="#858585" stroke-width="1.0"/>
<text x="26.7" y="354.3" font-size="9" text-anchor="middle" fill="#1a1a1a" color="#1a1a1a">500</text>
<line x1="61.6" y1="344.3" x2="61.6" y2="346.6" stroke="#858585" stroke-width="1.0"/>
<text x="61.6" y="354.3" font-size="9" text-anchor="middle" fill="#1a1a1a" color="#1a1a1a">1000</text>
<line x1="96.4" y1="344.3" x2="96.4" y2="346.6" stroke="#858585" stroke-width="1.0"/>
<text x="96.4" y="354.3" font-size="9" text-anchor="middle" fill="#1a1a1a" color="#1a1a1a">1500</text>
<line x1="131.3" y1="344.3" x2="131.3" y2="346.6" stroke="#858585" stroke-width="1.0"/>
<text x="131.3" y="354.3" font-size="9" text-anchor="middle" fill="#1a1a1a" color="#1a1a1a">2000</text>
<line x1="166.2" y1="344.3" x2="166.2" y2="346.6" stroke="#858585" stroke-width="1.0"/>
<text x="166.2" y="354.3" font-size="9" text-anchor="middle" fill="#1a1a1a" color="#1a1a1a">2500</text>
<line x1="201" y1="344.3" x2="201" y2="346.6" stroke="#858585" stroke-width="1.0"/>
<text x="201" y="354.3" font-size="9" text-anchor="middle" fill="#1a1a1a" color="#1a1a1a">3000</text>
<line x1="235.9" y1="344.3" x2="235.9" y2="346.6" stroke="#858585" stroke-width="1.0"/>
<text x="235.9" y="354.3" font-size="9" text-anchor="middle" fill="#1a1a1a" color="#1a1a1a">3500</text>
<line x1="44.1" y1="344.3" x2="44.1" y2="345.7" stroke="#858585" stroke-width="1.0"/>
<line x1="79" y1="344.3" x2="79" y2="345.7" stroke="#858585" stroke-width="1.0"/>
<line x1="113.9" y1="344.3" x2="113.9" y2="345.7" stroke="#858585" stroke-width="1.0"/>
<line x1="148.7" y1="344.3" x2="148.7" y2="345.7" stroke="#858585" stroke-width="1.0"/>
<line x1="183.6" y1="344.3" x2="183.6" y2="345.7" stroke="#858585" stroke-width="1.0"/>
<line x1="218.5" y1="344.3" x2="218.5" y2="345.7" stroke="#858585" stroke-width="1.0"/>
<text x="131.6" y="365.2" font-size="9.7" text-anchor="middle" fill="#1a1a1a" color="#1a1a1a">Wavenumber (cm<tspan font-size="6" dy="-3.7">-1</tspan><tspan dy="3.7">)</tspan></text>
<text transform="translate(22.2 266.8) rotate(-90) scale(1 0.86)" font-size="9.6" text-anchor="middle" fill="#1a1a1a" color="#1a1a1a">Intensity (a.u.)</text>
<path d="M26.7 242.5 L27.1 242.2 L27.5 242.1 L27.9 241.8 L28.3 241.7 L28.7 241.7 L29.1 242.1 L29.5 242.1 L29.9 242.2 L30.3 242.1 L30.7 241.8 L31.1 242.2 L31.5 241.7 L31.9 241.8 L32.3 241.8 L32.7 241.3 L33.1 241.6 L33.5 241.4 L33.9 241.1 L34.3 240.9 L34.7 241 L35.1 241.1 L35.5 241.5 L35.9 241.6 L36.3 241.7 L36.7 241.2 L37.1 241.4 L37.5 241.5 L37.9 241.5 L38.3 241.5 L38.7 241.6 L39.1 241 L39.5 241.6 L39.9 241.8 L40.3 241.9 L40.7 242.1 L41.1 241.9 L41.5 242 L41.9 242.2 L42.3 242.1 L42.7 242 L43.1 241.6 L43.5 242.1 L43.9 242.4 L44.3 242.4 L44.7 242.3 L45.1 241.9 L45.5 242.6 L45.9 242.5 L46.3 242 L46.7 242.7 L47.1 242 L47.5 242 L47.9 242.3 L48.3 242.9 L48.7 242.5 L49.1 242.8 L49.5 243.2 L49.9 243.1 L50.3 242.5 L50.7 242.3 L51.1 241.9 L51.5 241.9 L51.9 242.2 L52.3 242.2 L52.7 242.4 L53.1 242.8 L53.5 242.3 L53.9 242.2 L54.3 242.2 L54.7 242.1 L55.1 242.2 L55.5 242.2 L55.9 242.3 L56.3 242.7 L56.7 242.3 L57.1 242 L57.5 242.5 L57.9 242.4 L58.3 242.5 L58.7 242 L59.1 242.2 L59.5 242 L59.9 241.8 L60.3 241.2 L60.7 241.6 L61.1 241.9 L61.5 241.8 L61.9 241.7 L62.3 241.7 L62.7 241.8 L63.1 240.7 L63.5 241.2 L63.9 241.2 L64.3 241 L64.7 240.9 L65.1 240.4 L65.5 239.7 L65.9 239.3 L66.3 239.2 L66.7 238.8 L67.1 239.1 L67.5 239.4 L67.9 239.6 L68.3 238.7 L68.7 238.4 L69.1 238.2 L69.5 238.3 L69.9 237.7 L70.3 237.9 L70.7 237 L71.1 236.9 L71.5 236.5 L71.9 236.3 L72.3 236.1 L72.7 235.1 L73.1 235 L73.5 235.1 L73.9 234.7 L74.3 234.1 L74.7 234.2 L75.1 233.4 L75.5 232.8 L75.9 231.9 L76.3 231.7 L76.7 230.9 L77.1 230.7 L77.5 229.5 L77.9 228.8 L78.3 228.3 L78.7 227.3 L79.1 226.5 L79.5 225.2 L79.9 223.7 L80.3 222.8 L80.7 221.4 L81.1 220.3 L81.5 218.3 L81.9 216.7 L82.3 215.7 L82.7 214.6 L83.1 213.3 L83.5 211.8 L83.9 210.9 L84.3 210.4 L84.7 209.3 L85.1 208.7 L85.5 208.6 L85.9 208.4 L86.3 207.8 L86.7 207.8 L87.1 208.4 L87.5 209.8 L87.9 210.3 L88.3 211.4 L88.7 212.5 L89.1 213.9 L89.5 215 L89.9 216.5 L90.3 217.3 L90.7 218.6 L91.1 219.6 L91.5 221.1 L91.9 221.6 L92.3 222.1 L92.7 223 L93.1 223.9 L93.5 224.9 L93.9 224.8 L94.3 224.9 L94.7 225 L95.1 225.5 L95.5 224.8 L95.9 224.2 L96.3 224 L96.7 223.9 L97.1 222.7 L97.5 221.8 L97.9 221.1 L98.3 219.7 L98.7 218.4 L99.1 216.3 L99.5 214.9 L99.9 212.6 L100.3 210.2 L100.7 208.4 L101.1 205.4 L101.5 203.8 L101.9 201.6 L102.3 200.8 L102.7 201.7 L103.1 203.5 L103.5 205.7 L103.9 208.7 L104.3 211.6 L104.7 215.3 L105.1 218.6 L105.5 221.6 L105.9 223.9 L106.3 227.5 L106.7 229.7 L107.1 232.2 L107.5 234.7 L107.9 236.2 L108.3 237.2 L108.7 238.1 L109.1 238.4 L109.5 238.9 L109.9 239.6 L110.3 239.7 L110.7 240.7 L111.1 240.3 L111.5 240.8 L111.9 240.9 L112.3 241.3 L112.7 241.7 L113.1 241.8 L113.5 241.7 L113.9 241.4 L114.3 241.7 L114.7 242.2 L115.1 242.3 L115.5 242.2 L115.9 242.3 L116.3 242.1 L116.7 242.6 L117.1 242.1 L117.5 242 L117.9 241.9 L118.3 242.1 L118.7 242.1 L119.1 242.4 L119.5 242.4 L119.9 242.8 L120.3 243.5 L120.7 242.8 L121.1 242.6 L121.5 242.7 L121.9 242.5 L122.3 242 L122.7 242.3 L123.1 242.8 L123.5 242.7 L123.9 242.7 L124.3 243.1 L124.7 242.4 L125.1 242.3 L125.5 241.7 L125.9 241.8 L126.3 240.8 L126.7 241.2 L127.1 241.7 L127.5 242.4 L127.9 242.4 L128.3 242.5 L128.7 241.8 L129.1 242.5 L129.5 242.4 L129.9 242.3 L130.3 242.5 L130.7 242.2 L131.1 242 L131.5 242.4 L131.9 241.9 L132.3 242 L132.7 242.2 L133.1 242.2 L133.5 242.5 L133.9 242 L134.3 241.6 L134.7 241.8 L135.1 242 L135.5 242.2 L135.9 242.7 L136.3 242.3 L136.7 241.7 L137.1 242.1 L137.5 241.7 L137.9 241.8 L138.3 241.9 L138.7 242 L139.1 241.9 L139.5 242.3 L139.9 242.3 L140.3 242.4 L140.7 242.5 L141.1 242 L141.5 242.2 L141.9 242 L142.3 241.9 L142.7 241.6 L143.1 242.6 L143.5 242.5 L143.9 242.2 L144.3 242 L144.7 242.1 L145.1 242 L145.5 241.7 L145.9 242 L146.3 241.9 L146.7 242.3 L147.1 241.8 L147.5 241.8 L147.9 241.9 L148.3 242.3 L148.7 241.5 L149.1 241.5 L149.5 241.2 L149.9 241.3 L150.3 240.7 L150.7 240.9 L151.1 241 L151.5 240.7 L151.9 240.5 L152.3 240.5 L152.7 239.9 L153.1 239.9 L153.5 240.1 L153.9 240.4 L154.3 240.4 L154.7 240.1 L155.1 240.5 L155.5 240.8 L155.9 240.5 L156.3 240.2 L156.7 239.9 L157.1 240.2 L157.5 240 L157.9 240 L158.3 240.1 L158.7 240.4 L159.1 239.8 L159.5 239.8 L159.9 239.2 L160.3 239.5 L160.7 239.2 L161.1 239.5 L161.5 240.3 L161.9 240.1 L162.3 239.8 L162.7 239.9 L163.1 239.9 L163.5 239.9 L163.9 239.1 L164.3 238.4 L164.7 238.6 L165.1 238.8 L165.5 239 L165.9 239.1 L166.3 238.5 L166.7 238.3 L167.1 237.7 L167.5 238.2 L167.9 238.4 L168.3 237.9 L168.7 237.5 L169.1 237.3 L169.5 237.5 L169.9 236.7 L170.3 237 L170.7 237.2 L171.1 237.2 L171.5 236.6 L171.9 236.4 L172.3 235.8 L172.7 235.6 L173.1 235.4 L173.5 235.3 L173.9 235.7 L174.3 236 L174.7 235.3 L175.1 235.3 L175.5 235.5 L175.9 235.3 L176.3 235.8 L176.7 235.6 L177.1 235.9 L177.5 235.7 L177.9 235.4 L178.3 234.7 L178.7 234.9 L179.1 234.7 L179.5 234.7 L179.9 235.2 L180.3 234.7 L180.7 235.3 L181.1 234.9 L181.5 235 L181.9 234.4 L182.3 233.9 L182.7 233.9 L183.1 233.7 L183.5 233.4 L183.9 233.5 L184.3 233.5 L184.7 233.2 L185.1 233.9 L185.5 233.7 L185.9 233.3 L186.3 233.2 L186.7 233.5 L187.1 233.3 L187.5 233.3 L187.9 233.3 L188.3 233.5 L188.7 232.6 L189.1 233.2 L189.5 232.8 L189.9 232.7 L190.3 233.4 L190.7 233.2 L191.1 233 L191.5 233.2 L191.9 233.3 L192.3 233.2 L192.7 232.9 L193.1 233.3 L193.5 233.5 L193.9 233 L194.3 232.9 L194.7 232.6 L195.1 232.4 L195.5 232.5 L195.9 232.8 L196.3 233 L196.7 233 L197.1 233 L197.5 233.3 L197.9 233.1 L198.3 233.4 L198.7 233.6 L199.1 233.5 L199.5 234 L199.9 233.2 L200.3 233.7 L200.7 233.6 L201.1 234.5 L201.5 234.6 L201.9 233.8 L202.3 234.1 L202.7 234.6 L203.1 234.9 L203.5 235.2 L203.9 235.3 L204.3 235.6 L204.7 235.7 L205.1 235.5 L205.5 235.8 L205.9 235.1 L206.3 236 L206.7 235.7 L207.1 236.3 L207.5 236 L207.9 235.8 L208.3 236.3 L208.7 236.1 L209.1 236.2 L209.5 236 L209.9 236.3 L210.3 236.4 L210.7 236.5 L211.1 236.3 L211.5 236.7 L211.9 236.6 L212.3 236.7 L212.7 236.8 L213.1 236.8 L213.5 236.6 L213.9 236.8 L214.3 237 L214.7 237.2 L215.1 237 L215.5 237.7 L215.9 237.3 L216.3 237.5 L216.7 237.1 L217.1 237.3 L217.5 237.6 L217.9 237.7 L218.3 238.5 L218.7 238.1 L219.1 238.5 L219.5 238.3 L219.9 237.9 L220.3 237.9 L220.7 237.7 L221.1 237.3 L221.5 237.2 L221.9 237.3 L222.3 237.1 L222.7 237.6 L223.1 236.9 L223.5 237.4 L223.9 237.1 L224.3 237.1 L224.7 237.2 L225.1 237.3 L225.5 237 L225.9 236.9 L226.3 237 L226.7 236.6 L227.1 236.9 L227.5 237.8 L227.9 237.4 L228.3 237.9 L228.7 237.1 L229.1 237.2 L229.5 237 L229.9 237.2 L230.3 237.6 L230.7 238 L231.1 237.6 L231.5 237.6 L231.9 237.5 L232.3 238.3 L232.7 238.4 L233.1 238.7 L233.5 238.2 L233.9 238.4 L234.3 237.3 L234.7 237.7 L235.1 238 L235.5 237.7 L235.9 237.6" fill="none" stroke="#1466e6" stroke-width="1.6" stroke-linejoin="round"/>
<path d="M26.7 284.1 L27.1 284.2 L27.4 284.9 L27.8 285.4 L28.1 285.2 L28.5 285 L28.8 285.9 L29.2 286.9 L29.5 286.6 L29.9 288.4 L30.2 288.6 L30.6 288.5 L30.9 287.1 L31.3 287 L31.6 286.4 L32 288.2 L32.3 286.6 L32.7 288.8 L33 285 L33.4 286.8 L33.7 286.9 L34.1 286.4 L34.4 286.8 L34.8 288 L35.1 286.3 L35.5 287.1 L35.8 286 L36.2 285.2 L36.5 285.3 L36.9 286.8 L37.2 286.2 L37.6 284.7 L37.9 286.5 L38.3 287.2 L38.6 287.5 L39 288.1 L39.3 285.5 L39.7 285.2 L40 284.6 L40.4 285.7 L40.7 286.8 L41.1 285.3 L41.4 285.8 L41.8 286.3 L42.1 285.5 L42.5 287 L42.8 286.5 L43.2 288 L43.5 287.3 L43.9 285.4 L44.2 285.2 L44.6 287.1 L44.9 285 L45.3 287 L45.6 286.2 L46 285.9 L46.3 288.6 L46.7 287.6 L47 286 L47.4 286.3 L47.7 285.5 L48.1 285.2 L48.4 286.1 L48.8 287.2 L49.1 285 L49.5 286.4 L49.8 284.5 L50.2 285.7 L50.5 284.7 L50.9 284.9 L51.2 285.5 L51.6 286.9 L51.9 286.8 L52.3 286 L52.6 285.8 L53 286.2 L53.3 288.3 L53.7 285.8 L54 285 L54.4 284.7 L54.7 285.2 L55.1 286.3 L55.4 286.3 L55.8 283.7 L56.1 287.4 L56.5 285.7 L56.8 284.8 L57.2 286.9 L57.5 283 L57.9 283.1 L58.2 284.9 L58.6 283.7 L58.9 284.5 L59.3 284.8 L59.6 285.4 L60 284.6 L60.3 283.5 L60.7 282.5 L61 283.8 L61.4 282.1 L61.7 283.5 L62.1 282.6 L62.4 283.5 L62.8 283.8 L63.1 283.2 L63.5 282.1 L63.8 283.5 L64.2 282.7 L64.5 283.3 L64.9 282.2 L65.2 284.4 L65.6 282 L65.9 280.7 L66.3 281.4 L66.6 282.1 L67 284.3 L67.3 283.2 L67.7 281.8 L68 282.4 L68.4 281.2 L68.7 280.6 L69.1 282.4 L69.4 281.7 L69.8 280.6 L70.1 280.5 L70.5 281.3 L70.8 281.2 L71.2 279.4 L71.5 278.2 L71.9 279.9 L72.2 278.1 L72.6 276.6 L72.9 277.6 L73.3 277.7 L73.6 278.2 L74 276.9 L74.3 277.3 L74.7 275.7 L75 276.7 L75.4 274.4 L75.7 275.7 L76.1 274.8 L76.4 272.7 L76.8 272.7 L77.1 274 L77.5 271.2 L77.8 270.1 L78.2 270.7 L78.5 270.6 L78.9 270.7 L79.2 269.1 L79.6 267.7 L79.9 266.5 L80.3 265.9 L80.6 263.9 L81 263.2 L81.3 259.9 L81.7 259.9 L82 259.1 L82.4 259.4 L82.7 258.3 L83.1 257.2 L83.4 257 L83.8 255.4 L84.1 257 L84.5 252.8 L84.8 253.2 L85.2 254.5 L85.5 253.7 L85.9 253.4 L86.2 253.8 L86.6 252.4 L86.9 252.8 L87.3 252.8 L87.6 254.6 L88 253.9 L88.3 256.2 L88.7 255.2 L89 256.4 L89.4 255.6 L89.7 258.4 L90.1 257 L90.4 260.1 L90.8 260.9 L91.1 261 L91.5 260.4 L91.8 261.9 L92.2 260.7 L92.5 263.4 L92.9 265.4 L93.2 266.4 L93.6 266.9 L93.9 268.9 L94.3 268.1 L94.6 267.7 L95 268 L95.3 267.3 L95.7 268.7 L96 267.7 L96.4 267.3 L96.7 268.9 L97.1 268.8 L97.4 265.4 L97.8 264.9 L98.1 261.4 L98.5 261.4 L98.8 260.1 L99.2 259 L99.5 256.8 L99.9 257.2 L100.2 255.8 L100.6 254.3 L100.9 254.6 L101.3 251.4 L101.6 250.8 L102 250.8 L102.3 247.9 L102.7 247.9 L103 250.3 L103.4 250.9 L103.7 253.1 L104.1 257 L104.4 258 L104.8 261.4 L105.1 262.2 L105.5 264.2 L105.8 264.3 L106.2 268.5 L106.5 270.2 L106.9 271.5 L107.2 272.6 L107.6 274.9 L107.9 277.5 L108.3 278.7 L108.6 278.9 L109 281.2 L109.3 282.2 L109.7 284.1 L110 284 L110.4 286.6 L110.7 285.1 L111.1 285.2 L111.4 286.4 L111.8 287.6 L112.1 284.8 L112.5 286.4 L112.8 287 L113.2 289 L113.5 285.5 L113.9 287.6 L114.2 285.9 L114.6 286.3 L114.9 287.8 L115.3 287.4 L115.6 286.3 L116 287.2 L116.3 287 L116.7 287.5 L117 286.7 L117.4 287.2 L117.7 287.7 L118.1 288 L118.4 287.6 L118.8 288 L119.1 288.1 L119.5 288 L119.8 287.4 L120.2 286.8 L120.5 287.4 L120.9 287.5 L121.2 287.9 L121.6 288.9 L121.9 288.1 L122.3 287.4 L122.6 287.4 L123 288.7 L123.3 288.7 L123.7 288 L124 287.4 L124.4 288.4 L124.7 288.8 L125.1 288.4 L125.4 287 L125.8 288.1 L126.1 288.7 L126.5 288.2 L126.8 289.1 L127.2 288.6 L127.5 289.8 L127.9 288.3 L128.2 290.1 L128.6 289.4 L128.9 288.7 L129.3 288.7 L129.6 289.9 L130 288.4 L130.3 288.9 L130.7 288.1 L131 289.5 L131.4 288 L131.7 288 L132.1 285.8 L132.4 287.9 L132.8 287.3 L133.1 288.2 L133.5 286.6 L133.8 286.9 L134.2 288.6 L134.5 286.7 L134.9 287.5 L135.2 288.2 L135.6 287.6 L135.9 287.8 L136.3 288.8 L136.6 287.2 L137 287.9 L137.3 287 L137.7 286.2 L138 287.2 L138.4 288.6 L138.7 287.8 L139.1 287.9 L139.4 288.6 L139.8 288.2 L140.1 288.6 L140.5 286.9 L140.8 288.5 L141.2 288.3 L141.5 289.3 L141.9 287.9 L142.2 288.9 L142.6 287 L142.9 288.3 L143.3 287.8 L143.6 287.5 L144 289.6 L144.3 290.3 L144.7 290.5 L145 288.9 L145.4 287.8 L145.7 288.9 L146.1 286.9 L146.4 288.1 L146.8 287.1 L147.1 288.7 L147.5 288.9 L147.8 288.4 L148.2 289.8 L148.5 288.8 L148.9 289.1 L149.2 289 L149.6 288.3 L149.9 286.1 L150.3 287.9 L150.6 288.3 L151 287.1 L151.3 287.7 L151.7 286.1 L152 288 L152.4 288.2 L152.7 288.2 L153.1 287.6 L153.4 288.3 L153.8 287 L154.1 287.4 L154.5 288.4 L154.8 287.3 L155.2 287.4 L155.5 287.3 L155.9 288.1 L156.2 286.7 L156.6 287 L156.9 287.2 L157.3 286.7 L157.6 288.4 L158 286.5 L158.3 287.6 L158.7 289.7 L159 288.9 L159.4 286.9 L159.7 287.7 L160.1 289.9 L160.4 288.3 L160.8 290.2 L161.1 287.9 L161.5 286 L161.8 288.2 L162.2 287.8 L162.5 288.1 L162.9 286.7 L163.2 286.4 L163.6 286.5 L163.9 286 L164.3 287.8 L164.6 288.3 L165 287.5 L165.3 288.6 L165.7 287.2 L166 287.3 L166.4 285.8 L166.7 288.2 L167.1 286.6 L167.4 288.1 L167.8 287.9 L168.1 287.2 L168.5 287.2 L168.8 286.5 L169.2 288.5 L169.5 288.5 L169.9 289.1 L170.2 288.5 L170.6 286.8 L170.9 286.2 L171.3 287.4 L171.6 288.1 L172 286.9 L172.3 287.5 L172.7 287.9 L173 287.6 L173.4 287.5 L173.7 287 L174.1 287.3 L174.4 286.6 L174.8 286.9 L175.1 287.5 L175.5 287.1 L175.8 286.6 L176.2 287.3 L176.5 286.1 L176.9 286.4 L177.2 286.1 L177.6 287.2 L177.9 287.5 L178.3 286.6 L178.6 286.3 L179 287.7 L179.3 287.4 L179.7 285.5 L180 287.2 L180.4 286.7 L180.7 285.6 L181.1 285.7 L181.4 285.7 L181.8 285.6 L182.1 286.6 L182.5 285.9 L182.8 286.3 L183.2 286.5 L183.5 284.7 L183.9 285.7 L184.2 285.1 L184.6 285.8 L184.9 285.7 L185.3 285.8 L185.6 285.8 L186 284.6 L186.3 285.7 L186.7 284.2 L187 286.8 L187.4 286.2 L187.7 286.9 L188.1 284.3 L188.4 286.9 L188.8 285.6 L189.1 286.1 L189.5 285.7 L189.8 285.2 L190.2 284.8 L190.5 283.7 L190.9 286.8 L191.2 287.6 L191.6 285.4 L191.9 286.9 L192.3 286.5 L192.6 286.1 L193 285.8 L193.3 286.5 L193.7 285.5 L194 285.8 L194.4 285.6 L194.7 285.5 L195.1 285.7 L195.4 286.5 L195.8 286.4 L196.1 284.9 L196.5 285.5 L196.8 285.5 L197.2 284.5 L197.5 287.1 L197.9 285.3 L198.2 287 L198.6 284 L198.9 285.4 L199.3 286.9 L199.6 286.6 L200 286.6 L200.3 286 L200.7 287.7 L201 285.9 L201.4 286.2 L201.7 285.6 L202.1 285.9 L202.4 287.9 L202.8 287.8 L203.1 284.9 L203.5 285.9 L203.8 287.7 L204.2 287.1 L204.5 288.1 L204.9 285.8 L205.2 287.6 L205.6 287.5 L205.9 287.6 L206.3 287 L206.6 287.7 L207 289.4 L207.3 287.1 L207.7 287.8 L208 287.4 L208.4 287.3 L208.7 289.1 L209.1 289 L209.4 287.4 L209.8 288.2 L210.1 287 L210.5 288.2 L210.8 288 L211.2 290 L211.5 289.3 L211.9 287.9 L212.2 287.1 L212.6 287.8 L212.9 290.8 L213.3 288.4 L213.6 288.2 L214 288.6 L214.3 288.5 L214.7 289.2 L215 287.9 L215.4 290 L215.7 288.7 L216.1 289.4 L216.4 290.8 L216.8 290.1 L217.1 290.4 L217.5 290.8 L217.8 289.4 L218.2 289 L218.5 289.6 L218.9 288.5 L219.2 288.9 L219.6 290.3 L219.9 289.9 L220.3 289.6 L220.6 288.5 L221 291.3 L221.3 289.6 L221.7 289.4 L222 289.4 L222.4 288.8 L222.7 289.3 L223.1 291.4 L223.4 288.3 L223.8 291.4 L224.1 288.5 L224.5 288.3 L224.8 290.3 L225.2 291.1 L225.5 289.4 L225.9 290.7 L226.2 289.4 L226.6 289.7 L226.9 289.3 L227.3 290.2 L227.6 289.7 L228 290.6 L228.3 290.2 L228.7 290.2 L229 289.9 L229.4 288.9 L229.7 289.1 L230.1 288.7 L230.4 290.5 L230.8 290.8 L231.1 289.9 L231.5 289.9 L231.8 289.8 L232.2 290.1 L232.5 290.7 L232.9 289.2 L233.2 289.4 L233.6 290.6 L233.9 291.1 L234.3 289.5 L234.6 290.4 L235 290.3 L235.3 289.6 L235.7 291.6" fill="none" stroke="#ff0c0c" stroke-width="2.0" stroke-linejoin="round"/>
<path d="M26.7 337.7 L27 335.5 L27.3 340.2 L27.6 337.3 L27.9 338.3 L28.2 340.1 L28.5 339.4 L28.8 342.3 L29.1 336.8 L29.4 339.1 L29.7 336.5 L30 337.5 L30.3 340.2 L30.6 339.7 L30.9 337.3 L31.2 337.4 L31.5 337.4 L31.8 340 L32.1 335.5 L32.4 337 L32.7 337.3 L33 336.1 L33.3 334.9 L33.6 337.5 L33.9 334.2 L34.2 339.1 L34.5 330.5 L34.8 331.4 L35.1 334.9 L35.4 335.5 L35.7 334.7 L36 332.2 L36.3 332.6 L36.6 332.9 L36.9 331.7 L37.2 333.2 L37.5 332.6 L37.8 336.5 L38.1 335 L38.4 333.3 L38.7 333.4 L39 333.1 L39.3 332.9 L39.6 333.4 L39.9 332 L40.2 331.9 L40.5 333.8 L40.8 332.8 L41.1 332.8 L41.4 332.6 L41.7 332.2 L42 330.6 L42.3 331.9 L42.6 334.2 L42.9 330.5 L43.2 330.8 L43.5 331.6 L43.8 331.6 L44.1 334.7 L44.4 331.7 L44.7 334.5 L45 334 L45.3 334.1 L45.6 334.1 L45.9 333.4 L46.2 333.1 L46.5 334 L46.8 328.3 L47.1 332.9 L47.4 334.6 L47.7 331.2 L48 331.8 L48.3 332.9 L48.6 328 L48.9 331.9 L49.2 329.7 L49.5 332.3 L49.8 332.7 L50.1 332.7 L50.4 330.9 L50.7 332.9 L51 331.6 L51.3 333.4 L51.6 332.4 L51.9 331.7 L52.2 334.8 L52.5 330.7 L52.8 331.9 L53.1 335 L53.4 334.1 L53.7 335.5 L54 332.7 L54.3 335.1 L54.6 333.1 L54.9 331.1 L55.2 334.9 L55.5 331.9 L55.8 334.3 L56.1 332.8 L56.4 335.6 L56.7 335.5 L57 332.5 L57.3 332.5 L57.6 329.8 L57.9 334.1 L58.2 334.8 L58.5 333.8 L58.8 336.1 L59.1 334.5 L59.4 334.9 L59.7 334.3 L60 333.1 L60.3 335.7 L60.6 336.6 L60.9 336.9 L61.2 334.9 L61.5 332.3 L61.8 334.2 L62.1 335.4 L62.4 333.5 L62.7 334.8 L63 334.2 L63.3 333.7 L63.6 333.1 L63.9 335.7 L64.2 336.7 L64.5 338.4 L64.8 336.1 L65.1 337 L65.4 333.9 L65.7 337.6 L66 339.8 L66.3 336.3 L66.6 339 L66.9 337.2 L67.2 338.9 L67.5 338.7 L67.8 334.2 L68.1 334.8 L68.4 335.2 L68.7 336.5 L69 339.1 L69.3 336 L69.6 335.3 L69.9 335 L70.2 333.7 L70.5 336.9 L70.8 335.8 L71.1 336 L71.4 334.3 L71.7 330.4 L72 333.2 L72.3 330.8 L72.6 330.3 L72.9 336.8 L73.2 333.2 L73.5 329.7 L73.8 330.7 L74.1 330.2 L74.4 328 L74.7 326.4 L75 328.8 L75.3 328.3 L75.6 328 L75.9 323.4 L76.2 326.8 L76.5 329.2 L76.8 322.6 L77.1 322.9 L77.4 321.7 L77.7 321.8 L78 321.9 L78.3 325.2 L78.6 320.6 L78.9 323.7 L79.2 318.5 L79.5 320.4 L79.8 317.8 L80.1 315.4 L80.4 314.6 L80.7 314.8 L81 312.3 L81.3 312.4 L81.6 311 L81.9 311 L82.2 310.2 L82.5 310.1 L82.8 307.2 L83.1 305 L83.4 303.9 L83.7 302.9 L84 304.4 L84.3 301.8 L84.6 304.3 L84.9 303.3 L85.2 305.2 L85.5 303.6 L85.8 305.3 L86.1 304.3 L86.4 304.2 L86.7 303.8 L87 305.8 L87.3 305.8 L87.6 305.1 L87.9 305.9 L88.2 303.7 L88.5 309.9 L88.8 310.7 L89.1 308.8 L89.4 308.4 L89.7 312.5 L90 313.6 L90.3 311.7 L90.6 310.9 L90.9 315 L91.2 315 L91.5 316 L91.8 318.3 L92.1 315.3 L92.4 316 L92.7 319.8 L93 318.4 L93.3 322 L93.6 312.9 L93.9 314.4 L94.2 317.7 L94.5 317 L94.8 313.7 L95.1 313.7 L95.4 313.4 L95.7 315.7 L96 311.4 L96.3 313.4 L96.6 312.3 L96.9 308.1 L97.2 313.5 L97.5 315.4 L97.8 310.9 L98.1 312.3 L98.4 310.8 L98.7 310.3 L99 307.6 L99.3 310.2 L99.6 306.5 L99.9 308.3 L100.2 309 L100.5 308.9 L100.8 307.2 L101.1 308.3 L101.4 305.9 L101.7 308 L102 303.2 L102.3 309.1 L102.6 305.1 L102.9 303.6 L103.2 307.9 L103.5 303.9 L103.8 308.6 L104.1 306.1 L104.4 308.7 L104.7 309.5 L105 311.1 L105.3 313 L105.6 315.7 L105.9 316.1 L106.2 321.4 L106.5 319.5 L106.8 315.6 L107.1 320.1 L107.4 321.9 L107.7 323.8 L108 325 L108.3 322.2 L108.6 325.7 L108.9 324.5 L109.2 326.6 L109.5 326.1 L109.8 328.9 L110.1 328.7 L110.4 330.2 L110.7 326.5 L111 327.4 L111.3 328.6 L111.6 327.8 L111.9 327.9 L112.2 329.9 L112.5 332.8 L112.8 329.5 L113.1 332.1 L113.4 326.7 L113.7 332.5 L114 332.4 L114.3 328.7 L114.6 327.9 L114.9 330.8 L115.2 327.1 L115.5 330.6 L115.8 326.6 L116.1 332.4 L116.4 329.3 L116.7 327.6 L117 324.9 L117.3 331.3 L117.6 328.8 L117.9 327.4 L118.2 330.4 L118.5 325.7 L118.8 329.8 L119.1 329.7 L119.4 326.2 L119.7 328.2 L120 328.6 L120.3 324.3 L120.6 324.9 L120.9 328.3 L121.2 328.5 L121.5 326 L121.8 322.1 L122.1 325.4 L122.4 331 L122.7 328.3 L123 327.5 L123.3 329.5 L123.6 325.1 L123.9 331.5 L124.2 323.1 L124.5 325.6 L124.8 326.4 L125.1 326.9 L125.4 324.1 L125.7 325.4 L126 327.6 L126.3 325.9 L126.6 327 L126.9 326 L127.2 325.7 L127.5 323.3 L127.8 322.3 L128.1 323.6 L128.4 322.2 L128.7 327.1 L129 326.2 L129.3 327.3 L129.6 322.5 L129.9 323 L130.2 326.9 L130.5 326.4 L130.8 326.7 L131.1 327.7 L131.4 323.6 L131.7 323 L132 324.1 L132.3 329.8 L132.6 325.8 L132.9 323.9 L133.2 327.5 L133.5 326.5 L133.8 326.8 L134.1 326.8 L134.4 325.9 L134.7 330 L135 328.3 L135.3 324.4 L135.6 324.3 L135.9 325.2 L136.2 328.1 L136.5 325.7 L136.8 326.5 L137.1 326.1 L137.4 326.9 L137.7 328.9 L138 325.8 L138.3 326.5 L138.6 329.5 L138.9 323.7 L139.2 327.3 L139.5 327.3 L139.8 327.2 L140.1 329.6 L140.4 331.9 L140.7 328.2 L141 328.2 L141.3 329.4 L141.6 326.2 L141.9 327.9 L142.2 329.6 L142.5 330 L142.8 328.5 L143.1 331.4 L143.4 326.8 L143.7 327.5 L144 327.1 L144.3 329.7 L144.6 330.1 L144.9 327.8 L145.2 329.5 L145.5 326.4 L145.8 327.4 L146.1 328.1 L146.4 328.3 L146.7 329.2 L147 327.2 L147.3 325.3 L147.6 328.2 L147.9 328.6 L148.2 328.9 L148.5 327.4 L148.8 327 L149.1 333 L149.4 331.5 L149.7 331.7 L150 331.9 L150.3 330 L150.6 330.1 L150.9 331.9 L151.2 331.7 L151.5 329.2 L151.8 329.6 L152.1 329.4 L152.4 328.6 L152.7 330.9 L153 330 L153.3 329.2 L153.6 327.5 L153.9 331 L154.2 329.1 L154.5 325 L154.8 332.2 L155.1 330.8 L155.4 329.3 L155.7 331.8 L156 324.2 L156.3 326.5 L156.6 328.6 L156.9 326 L157.2 330.9 L157.5 330.8 L157.8 327.5 L158.1 326.9 L158.4 329 L158.7 326.6 L159 323.6 L159.3 325.2 L159.6 324.2 L159.9 326.9 L160.2 326.1 L160.5 328.2 L160.8 325.9 L161.1 323.7 L161.4 322.6 L161.7 327.3 L162 327.1 L162.3 323.1 L162.6 321.8 L162.9 321.8 L163.2 327.1 L163.5 325.3 L163.8 329.5 L164.1 325 L164.4 324.4 L164.7 324 L165 325.5 L165.3 327.5 L165.6 322.4 L165.9 324.9 L166.2 325.4 L166.5 322.5 L166.8 322.3 L167.1 325.2 L167.4 322.3 L167.7 323.1 L168 322.1 L168.3 322.7 L168.6 323.9 L168.9 324.1 L169.2 323.5 L169.5 324.4 L169.8 321.6 L170.1 327.2 L170.4 321.1 L170.7 323.9 L171 321.4 L171.3 322.7 L171.6 319 L171.9 321.5 L172.2 320.6 L172.5 323.5 L172.8 323.2 L173.1 321.2 L173.4 320.8 L173.7 322.9 L174 320.7 L174.3 322.1 L174.6 321.5 L174.9 320.6 L175.2 321.4 L175.5 318.9 L175.8 322.6 L176.1 322.7 L176.4 323.5 L176.7 326.1 L177 323 L177.3 321.8 L177.6 320.7 L177.9 319.4 L178.2 322.5 L178.5 320 L178.8 322.7 L179.1 322.5 L179.4 320.7 L179.7 322.8 L180 324.4 L180.3 321.3 L180.6 321.6 L180.9 320.7 L181.2 320.5 L181.5 322.2 L181.8 319.6 L182.1 321 L182.4 322.3 L182.7 317.4 L183 321 L183.3 320.8 L183.6 320.5 L183.9 318.6 L184.2 318.9 L184.5 322.8 L184.8 320 L185.1 321.6 L185.4 320.6 L185.7 318.9 L186 319.2 L186.3 318.5 L186.6 321.8 L186.9 320.7 L187.2 317.6 L187.5 324 L187.8 322.7 L188.1 321.9 L188.4 317.7 L188.7 318.4 L189 317.8 L189.3 320.6 L189.6 316.9 L189.9 316.4 L190.2 315.1 L190.5 313.1 L190.8 317.3 L191.1 319.7 L191.4 315.1 L191.7 314.1 L192 314.7 L192.3 315 L192.6 313.7 L192.9 315.4 L193.2 315.4 L193.5 312.7 L193.8 315.7 L194.1 313.9 L194.4 312.6 L194.7 314.8 L195 317.5 L195.3 317.1 L195.6 316.9 L195.9 317.6 L196.2 318 L196.5 317.8 L196.8 318.1 L197.1 320.4 L197.4 316.4 L197.7 318.6 L198 314.5 L198.3 318 L198.6 319.4 L198.9 316.8 L199.2 321.1 L199.5 316.9 L199.8 321.7 L200.1 318.6 L200.4 319.6 L200.7 318.1 L201 319.8 L201.3 318.2 L201.6 320.6 L201.9 319 L202.2 319.9 L202.5 319.1 L202.8 320.1 L203.1 318.2 L203.4 318.8 L203.7 317.1 L204 318.9 L204.3 319 L204.6 319.4 L204.9 320 L205.2 317.5 L205.5 321.7 L205.8 324 L206.1 319.8 L206.4 316.3 L206.7 321.5 L207 320 L207.3 319.5 L207.6 320 L207.9 320 L208.2 320.1 L208.5 322 L208.8 321.8 L209.1 321.1 L209.4 323.4 L209.7 325.2 L210 325.8 L210.3 321.5 L210.6 322.7 L210.9 322.9 L211.2 321.4 L211.5 320.3 L211.8 322.2 L212.1 320.6 L212.4 320.9 L212.7 317.6 L213 317.9 L213.3 319.7 L213.6 320.8 L213.9 321.9 L214.2 318.8 L214.5 323.3 L214.8 321.1 L215.1 320.5 L215.4 323.1 L215.7 324.2 L216 321.3 L216.3 320.9 L216.6 321.4 L216.9 322.6 L217.2 321 L217.5 321.3 L217.8 321.4 L218.1 320.6 L218.4 321.6 L218.7 320 L219 318.2 L219.3 320.8 L219.6 320.8 L219.9 324.2 L220.2 322.1 L220.5 320.5 L220.8 319.1 L221.1 318.4 L221.4 320 L221.7 322.7 L222 321.9 L222.3 320.3 L222.6 322.3 L222.9 320.6 L223.2 322.7 L223.5 325.3 L223.8 323.5 L224.1 317.2 L224.4 323.3 L224.7 320 L225 321.2 L225.3 321.2 L225.6 320.9 L225.9 317.2 L226.2 322.6 L226.5 318.8 L226.8 319.4 L227.1 322.2 L227.4 323.6 L227.7 321.4 L228 319.4 L228.3 322.8 L228.6 321.4 L228.9 323.3 L229.2 323.8 L229.5 319.2 L229.8 319.2 L230.1 321.2 L230.4 320 L230.7 324.2 L231 321 L231.3 320.8 L231.6 321 L231.9 323.2 L232.2 321.3 L232.5 322.4 L232.8 320.2 L233.1 323.1 L233.4 320.9 L233.7 320.2 L234 319.9 L234.3 323.3 L234.6 321 L234.9 322.6 L235.2 322 L235.5 322.4 L235.8 320.3" fill="none" stroke="#000000" stroke-width="1.7" stroke-linejoin="round"/>
<rect x="26.7" y="190.3" width="209.2" height="154" fill="none" stroke="#858585" stroke-width="1.0"/>
<text x="214.9" y="234.8" font-size="10" text-anchor="start" fill="#1a1a1a" color="#1a1a1a">ACF</text>
<text x="213.5" y="284" font-size="10" text-anchor="start" fill="#1a1a1a" color="#1a1a1a">ACK</text>
<text x="214.6" y="314.6" font-size="10" text-anchor="start" fill="#1a1a1a" color="#1a1a1a">ACR</text>
<text x="115.6" y="233.4" font-size="10.5" text-anchor="start" fill="#1a1a1a" color="#1a1a1a">I<tspan font-size="7.5" dy="2.2">G</tspan><tspan dy="-2.2"> / I</tspan><tspan font-size="7.5" dy="2.2">D</tspan><tspan dy="-2.2"> :</tspan><tspan dx="0.4">1.16</tspan></text>
<text x="115.6" y="278.6" font-size="10.5" text-anchor="start" fill="#1a1a1a" color="#1a1a1a">I<tspan font-size="7.5" dy="2.2">G</tspan><tspan dy="-2.2"> / I</tspan><tspan font-size="7.5" dy="2.2">D</tspan><tspan dy="-2.2"> :</tspan><tspan dx="0.4">1.05</tspan></text>
<text x="115.6" y="318.6" font-size="10.5" text-anchor="start" fill="#1a1a1a" color="#1a1a1a">I<tspan font-size="7.5" dy="2.2">G</tspan><tspan dy="-2.2"> / I</tspan><tspan font-size="7.5" dy="2.2">D</tspan><tspan dy="-2.2"> :</tspan><tspan dx="1.4">0.90</tspan></text>
<text x="239.2" y="193.7" font-size="17.5" text-anchor="start" fill="#111" color="#111" style="stroke-width:0.1px">(d)</text>
<line x1="278.5" y1="190.5" x2="480.6" y2="190.5" stroke="#858585" stroke-width="1.0"/>
<line x1="480.6" y1="190.5" x2="480.6" y2="344" stroke="#858585" stroke-width="1.0"/>
<line x1="278.5" y1="344" x2="480.6" y2="344" stroke="#858585" stroke-width="1.0"/>
<line x1="278.5" y1="241.8" x2="480.6" y2="241.8" stroke="#858585" stroke-width="1.0"/>
<line x1="278.5" y1="293.1" x2="480.6" y2="293.1" stroke="#858585" stroke-width="1.0"/>
<line x1="278.5" y1="190.5" x2="278.5" y2="241.8" stroke="#5c9ef0" stroke-width="0.9"/>
<line x1="278.5" y1="241.8" x2="278.5" y2="293.1" stroke="#ff5555" stroke-width="0.9"/>
<line x1="278.5" y1="293.1" x2="278.5" y2="344" stroke="#222" stroke-width="1.0"/>
<line x1="295.1" y1="344" x2="295.1" y2="346.5" stroke="#858585" stroke-width="1.0"/>
<text x="295.1" y="355" font-size="9" text-anchor="middle" fill="#1a1a1a" color="#1a1a1a">0.0</text>
<line x1="328.7" y1="344" x2="328.7" y2="346.5" stroke="#858585" stroke-width="1.0"/>
<text x="328.7" y="355" font-size="9" text-anchor="middle" fill="#1a1a1a" color="#1a1a1a">0.2</text>
<line x1="362.2" y1="344" x2="362.2" y2="346.5" stroke="#858585" stroke-width="1.0"/>
<text x="362.2" y="355" font-size="9" text-anchor="middle" fill="#1a1a1a" color="#1a1a1a">0.4</text>
<line x1="395.8" y1="344" x2="395.8" y2="346.5" stroke="#858585" stroke-width="1.0"/>
<text x="395.8" y="355" font-size="9" text-anchor="middle" fill="#1a1a1a" color="#1a1a1a">0.6</text>
<line x1="429.3" y1="344" x2="429.3" y2="346.5" stroke="#858585" stroke-width="1.0"/>
<text x="429.3" y="355" font-size="9" text-anchor="middle" fill="#1a1a1a" color="#1a1a1a">0.8</text>
<line x1="462.9" y1="344" x2="462.9" y2="346.5" stroke="#858585" stroke-width="1.0"/>
<text x="462.9" y="355" font-size="9" text-anchor="middle" fill="#1a1a1a" color="#1a1a1a">1.0</text>
<line x1="311.9" y1="344" x2="311.9" y2="345.5" stroke="#858585" stroke-width="1.0"/>
<line x1="345.4" y1="344" x2="345.4" y2="345.5" stroke="#858585" stroke-width="1.0"/>
<line x1="379" y1="344" x2="379" y2="345.5" stroke="#858585" stroke-width="1.0"/>
<line x1="412.6" y1="344" x2="412.6" y2="345.5" stroke="#858585" stroke-width="1.0"/>
<line x1="446.1" y1="344" x2="446.1" y2="345.5" stroke="#858585" stroke-width="1.0"/>
<text x="379.3" y="364.2" font-size="9.5" text-anchor="middle" fill="#1a1a1a" color="#1a1a1a">Relative Pressure P/P<tspan font-size="5.9" dy="-3.6">0</tspan></text>
<line x1="278.5" y1="241.5" x2="276" y2="241.5" stroke="#5c9ef0" stroke-width="1.0"/>
<text x="275.9" y="244.1" font-size="7.4" text-anchor="end" fill="#5c9ef0" color="#5c9ef0">300</text>
<line x1="278.5" y1="228.8" x2="276" y2="228.8" stroke="#5c9ef0" stroke-width="1.0"/>
<text x="275.9" y="231.3" font-size="7.4" text-anchor="end" fill="#5c9ef0" color="#5c9ef0">400</text>
<line x1="278.5" y1="216" x2="276" y2="216" stroke="#5c9ef0" stroke-width="1.0"/>
<text x="275.9" y="218.6" font-size="7.4" text-anchor="end" fill="#5c9ef0" color="#5c9ef0">500</text>
<line x1="278.5" y1="203.2" x2="276" y2="203.2" stroke="#5c9ef0" stroke-width="1.0"/>
<text x="275.9" y="205.8" font-size="7.4" text-anchor="end" fill="#5c9ef0" color="#5c9ef0">600</text>
<line x1="278.5" y1="190.5" x2="276" y2="190.5" stroke="#5c9ef0" stroke-width="1.0"/>
<text x="275.9" y="193.1" font-size="7.4" text-anchor="end" fill="#5c9ef0" color="#5c9ef0">700</text>
<line x1="278.5" y1="235.1" x2="277" y2="235.1" stroke="#5c9ef0" stroke-width="1.0"/>
<line x1="278.5" y1="222.4" x2="277" y2="222.4" stroke="#5c9ef0" stroke-width="1.0"/>
<line x1="278.5" y1="209.6" x2="277" y2="209.6" stroke="#5c9ef0" stroke-width="1.0"/>
<line x1="278.5" y1="196.9" x2="277" y2="196.9" stroke="#5c9ef0" stroke-width="1.0"/>
<line x1="278.5" y1="288.2" x2="276" y2="288.2" stroke="#ff5555" stroke-width="1.0"/>
<text x="275.9" y="291.1" font-size="7.4" text-anchor="end" fill="#ff5555" color="#ff5555">280</text>
<line x1="278.5" y1="271.5" x2="276" y2="271.5" stroke="#ff5555" stroke-width="1.0"/>
<text x="275.9" y="274.4" font-size="7.4" text-anchor="end" fill="#ff5555" color="#ff5555">300</text>
<line x1="278.5" y1="254.8" x2="276" y2="254.8" stroke="#ff5555" stroke-width="1.0"/>
<text x="275.9" y="257.6" font-size="7.4" text-anchor="end" fill="#ff5555" color="#ff5555">320</text>
<line x1="278.5" y1="279.9" x2="277" y2="279.9" stroke="#ff5555" stroke-width="1.0"/>
<line x1="278.5" y1="263.1" x2="277" y2="263.1" stroke="#ff5555" stroke-width="1.0"/>
<line x1="278.5" y1="246.4" x2="277" y2="246.4" stroke="#ff5555" stroke-width="1.0"/>
<line x1="278.5" y1="335.5" x2="276" y2="335.5" stroke="#222" stroke-width="1.0"/>
<text x="275.9" y="338.1" font-size="7.4" text-anchor="end" fill="#222" color="#222">0</text>
<line x1="278.5" y1="324.3" x2="276" y2="324.3" stroke="#222" stroke-width="1.0"/>
<text x="275.9" y="326.9" font-size="7.4" text-anchor="end" fill="#222" color="#222">20</text>
<line x1="278.5" y1="313.2" x2="276" y2="313.2" stroke="#222" stroke-width="1.0"/>
<text x="275.9" y="315.8" font-size="7.4" text-anchor="end" fill="#222" color="#222">40</text>
<line x1="278.5" y1="302" x2="276" y2="302" stroke="#222" stroke-width="1.0"/>
<text x="275.9" y="304.6" font-size="7.4" text-anchor="end" fill="#222" color="#222">60</text>
<line x1="278.5" y1="341.1" x2="277" y2="341.1" stroke="#222" stroke-width="1.0"/>
<line x1="278.5" y1="329.9" x2="277" y2="329.9" stroke="#222" stroke-width="1.0"/>
<line x1="278.5" y1="318.8" x2="277" y2="318.8" stroke="#222" stroke-width="1.0"/>
<line x1="278.5" y1="307.6" x2="277" y2="307.6" stroke="#222" stroke-width="1.0"/>
<line x1="278.5" y1="296.4" x2="277" y2="296.4" stroke="#222" stroke-width="1.0"/>
<text transform="translate(261.3 267.4) rotate(-90) scale(1 0.85)" font-size="10.2" text-anchor="middle" fill="#1a1a1a" color="#1a1a1a">Adsorbed Volume cm<tspan font-size="6.5" dy="-3.8">3</tspan><tspan dy="3.8">/g STP</tspan></text>
<path d="M304.5 238.3 L312.6 232.9 L319.8 229.7 L328.9 224.8 L337 221.6 L345.5 219 L354 215.9 L362.3 213.9 L370.4 211.9 L379.6 209.2 L388.2 207.3 L396.7 204 L405.2 203 L413.7 202 L421.7 200.6 L430.2 199.9 L438.7 199.2 L447.2 198.3 L455 197.3 L459.4 196.4" fill="none" stroke="#1a72ee" stroke-width="1.3" stroke-linejoin="round"/>
<circle cx="304.5" cy="238.3" r="1.8" fill="#1a72ee"/>
<circle cx="312.6" cy="232.9" r="1.8" fill="#1a72ee"/>
<circle cx="319.8" cy="229.7" r="1.8" fill="#1a72ee"/>
<circle cx="328.9" cy="224.8" r="1.8" fill="#1a72ee"/>
<circle cx="337" cy="221.6" r="1.8" fill="#1a72ee"/>
<circle cx="345.5" cy="219" r="1.8" fill="#1a72ee"/>
<circle cx="354" cy="215.9" r="1.8" fill="#1a72ee"/>
<circle cx="362.3" cy="213.9" r="1.8" fill="#1a72ee"/>
<circle cx="370.4" cy="211.9" r="1.8" fill="#1a72ee"/>
<circle cx="379.6" cy="209.2" r="1.8" fill="#1a72ee"/>
<circle cx="388.2" cy="207.3" r="1.8" fill="#1a72ee"/>
<circle cx="396.7" cy="204" r="1.8" fill="#1a72ee"/>
<circle cx="405.2" cy="203" r="1.8" fill="#1a72ee"/>
<circle cx="413.7" cy="202" r="1.8" fill="#1a72ee"/>
<circle cx="421.7" cy="200.6" r="1.8" fill="#1a72ee"/>
<circle cx="430.2" cy="199.9" r="1.8" fill="#1a72ee"/>
<circle cx="438.7" cy="199.2" r="1.8" fill="#1a72ee"/>
<circle cx="447.2" cy="198.3" r="1.8" fill="#1a72ee"/>
<circle cx="455" cy="197.3" r="1.8" fill="#1a72ee"/>
<circle cx="459.4" cy="196.4" r="1.8" fill="#1a72ee"/>
<path d="M362.3 213.9 L370.4 210.2 L379.6 204.6 L388.2 202.5 L396.7 202 L405.2 200.8 L413.7 200.3 L421.7 199.9 L430.2 199.5 L438.7 198.9 L447.2 198 L455 197.2 L459.4 196.4" fill="none" stroke="#1a72ee" stroke-width="1.3" stroke-linejoin="round"/>
<circle cx="362.3" cy="213.9" r="1.8" fill="#1a72ee"/>
<circle cx="370.4" cy="210.2" r="1.8" fill="#1a72ee"/>
<circle cx="379.6" cy="204.6" r="1.8" fill="#1a72ee"/>
<circle cx="388.2" cy="202.5" r="1.8" fill="#1a72ee"/>
<circle cx="396.7" cy="202" r="1.8" fill="#1a72ee"/>
<circle cx="405.2" cy="200.8" r="1.8" fill="#1a72ee"/>
<circle cx="413.7" cy="200.3" r="1.8" fill="#1a72ee"/>
<circle cx="421.7" cy="199.9" r="1.8" fill="#1a72ee"/>
<circle cx="430.2" cy="199.5" r="1.8" fill="#1a72ee"/>
<circle cx="438.7" cy="198.9" r="1.8" fill="#1a72ee"/>
<circle cx="447.2" cy="198" r="1.8" fill="#1a72ee"/>
<circle cx="455" cy="197.2" r="1.8" fill="#1a72ee"/>
<circle cx="459.4" cy="196.4" r="1.8" fill="#1a72ee"/>
<path d="M294.6 287.8 L300.7 283.4 L307.2 280.7 L315.2 278 L323.7 275.6 L333.2 273.2 L342.9 271.3 L352.2 270.3 L361.1 268.4 L370.4 267.1 L379.2 265.9 L388.7 264.7 L397.9 263.5 L407.2 262.3 L416.6 261.1 L425.9 259.4 L435.1 257.4 L444.1 255.5 L453.1 250.6 L455 248.2" fill="none" stroke="#ff0c0c" stroke-width="1.3" stroke-linejoin="round"/>
<circle cx="294.6" cy="287.8" r="1.8" fill="#ff0c0c"/>
<circle cx="300.7" cy="283.4" r="1.8" fill="#ff0c0c"/>
<circle cx="307.2" cy="280.7" r="1.8" fill="#ff0c0c"/>
<circle cx="315.2" cy="278" r="1.8" fill="#ff0c0c"/>
<circle cx="323.7" cy="275.6" r="1.8" fill="#ff0c0c"/>
<circle cx="333.2" cy="273.2" r="1.8" fill="#ff0c0c"/>
<circle cx="342.9" cy="271.3" r="1.8" fill="#ff0c0c"/>
<circle cx="352.2" cy="270.3" r="1.8" fill="#ff0c0c"/>
<circle cx="361.1" cy="268.4" r="1.8" fill="#ff0c0c"/>
<circle cx="370.4" cy="267.1" r="1.8" fill="#ff0c0c"/>
<circle cx="379.2" cy="265.9" r="1.8" fill="#ff0c0c"/>
<circle cx="388.7" cy="264.7" r="1.8" fill="#ff0c0c"/>
<circle cx="397.9" cy="263.5" r="1.8" fill="#ff0c0c"/>
<circle cx="407.2" cy="262.3" r="1.8" fill="#ff0c0c"/>
<circle cx="416.6" cy="261.1" r="1.8" fill="#ff0c0c"/>
<circle cx="425.9" cy="259.4" r="1.8" fill="#ff0c0c"/>
<circle cx="435.1" cy="257.4" r="1.8" fill="#ff0c0c"/>
<circle cx="444.1" cy="255.5" r="1.8" fill="#ff0c0c"/>
<circle cx="453.1" cy="250.6" r="1.8" fill="#ff0c0c"/>
<circle cx="455" cy="248.2" r="1.8" fill="#ff0c0c"/>
<path d="M307.2 280.7 L315.2 276.9 L323.7 274.4 L333.2 272 L342.9 269.6 L352.2 267.9 L361.1 265.5 L370.4 262.3 L379.2 261.1 L388.7 259.9 L397.9 258.6 L407.2 257.4 L416.6 256.2 L425.9 255 L435.1 253.5 L444.1 251.8 L453.1 248.9 L456.7 248.2" fill="none" stroke="#ff0c0c" stroke-width="1.3" stroke-linejoin="round"/>
<circle cx="307.2" cy="280.7" r="1.8" fill="#ff0c0c"/>
<circle cx="315.2" cy="276.9" r="1.8" fill="#ff0c0c"/>
<circle cx="323.7" cy="274.4" r="1.8" fill="#ff0c0c"/>
<circle cx="333.2" cy="272" r="1.8" fill="#ff0c0c"/>
<circle cx="342.9" cy="269.6" r="1.8" fill="#ff0c0c"/>
<circle cx="352.2" cy="267.9" r="1.8" fill="#ff0c0c"/>
<circle cx="361.1" cy="265.5" r="1.8" fill="#ff0c0c"/>
<circle cx="370.4" cy="262.3" r="1.8" fill="#ff0c0c"/>
<circle cx="379.2" cy="261.1" r="1.8" fill="#ff0c0c"/>
<circle cx="388.7" cy="259.9" r="1.8" fill="#ff0c0c"/>
<circle cx="397.9" cy="258.6" r="1.8" fill="#ff0c0c"/>
<circle cx="407.2" cy="257.4" r="1.8" fill="#ff0c0c"/>
<circle cx="416.6" cy="256.2" r="1.8" fill="#ff0c0c"/>
<circle cx="425.9" cy="255" r="1.8" fill="#ff0c0c"/>
<circle cx="435.1" cy="253.5" r="1.8" fill="#ff0c0c"/>
<circle cx="444.1" cy="251.8" r="1.8" fill="#ff0c0c"/>
<circle cx="453.1" cy="248.9" r="1.8" fill="#ff0c0c"/>
<circle cx="456.7" cy="248.2" r="1.8" fill="#ff0c0c"/>
<path d="M303.6 330.8 L312.6 330.6 L321.1 330.1 L329.1 329.5 L337.6 329 L346.1 328.5 L354.6 328.1 L363.1 327.7 L371.6 327.3 L379.5 327.1 L387.5 326.9 L396.2 326.4 L405.2 325.9 L413.7 325.2 L421.5 324.5 L430.2 323.5 L438.7 322.3 L447.2 320.4 L455 316.2 L457.4 312.3 L458.7 311.4" fill="none" stroke="#111" stroke-width="1.3" stroke-linejoin="round"/>
<circle cx="303.6" cy="330.8" r="1.8" fill="#111"/>
<circle cx="312.6" cy="330.6" r="1.8" fill="#111"/>
<circle cx="321.1" cy="330.1" r="1.8" fill="#111"/>
<circle cx="329.1" cy="329.5" r="1.8" fill="#111"/>
<circle cx="337.6" cy="329" r="1.8" fill="#111"/>
<circle cx="346.1" cy="328.5" r="1.8" fill="#111"/>
<circle cx="354.6" cy="328.1" r="1.8" fill="#111"/>
<circle cx="363.1" cy="327.7" r="1.8" fill="#111"/>
<circle cx="371.6" cy="327.3" r="1.8" fill="#111"/>
<circle cx="379.5" cy="327.1" r="1.8" fill="#111"/>
<circle cx="387.5" cy="326.9" r="1.8" fill="#111"/>
<circle cx="396.2" cy="326.4" r="1.8" fill="#111"/>
<circle cx="405.2" cy="325.9" r="1.8" fill="#111"/>
<circle cx="413.7" cy="325.2" r="1.8" fill="#111"/>
<circle cx="421.5" cy="324.5" r="1.8" fill="#111"/>
<circle cx="430.2" cy="323.5" r="1.8" fill="#111"/>
<circle cx="438.7" cy="322.3" r="1.8" fill="#111"/>
<circle cx="447.2" cy="320.4" r="1.8" fill="#111"/>
<circle cx="455" cy="316.2" r="1.8" fill="#111"/>
<circle cx="457.4" cy="312.3" r="1.8" fill="#111"/>
<circle cx="458.7" cy="311.4" r="1.8" fill="#111"/>
<path d="M327.9 324 L336.4 323.6 L344.9 323.3 L353.4 323 L361.9 322.7 L370.4 322.3 L379 321.8 L387.5 321.3 L396.2 320.9 L405.2 320.4 L413.7 319.7 L421.5 319.1 L430.2 318.4 L438.7 317.2 L447.2 315.5 L455 313.1 L458.7 311.4" fill="none" stroke="#111" stroke-width="1.3" stroke-linejoin="round"/>
<circle cx="327.9" cy="324" r="1.8" fill="#111"/>
<circle cx="336.4" cy="323.6" r="1.8" fill="#111"/>
<circle cx="344.9" cy="323.3" r="1.8" fill="#111"/>
<circle cx="353.4" cy="323" r="1.8" fill="#111"/>
<circle cx="361.9" cy="322.7" r="1.8" fill="#111"/>
<circle cx="370.4" cy="322.3" r="1.8" fill="#111"/>
<circle cx="379" cy="321.8" r="1.8" fill="#111"/>
<circle cx="387.5" cy="321.3" r="1.8" fill="#111"/>
<circle cx="396.2" cy="320.9" r="1.8" fill="#111"/>
<circle cx="405.2" cy="320.4" r="1.8" fill="#111"/>
<circle cx="413.7" cy="319.7" r="1.8" fill="#111"/>
<circle cx="421.5" cy="319.1" r="1.8" fill="#111"/>
<circle cx="430.2" cy="318.4" r="1.8" fill="#111"/>
<circle cx="438.7" cy="317.2" r="1.8" fill="#111"/>
<circle cx="447.2" cy="315.5" r="1.8" fill="#111"/>
<circle cx="455" cy="313.1" r="1.8" fill="#111"/>
<circle cx="458.7" cy="311.4" r="1.8" fill="#111"/>
<line x1="285.2" y1="199.8" x2="307.2" y2="199.8" stroke="#1466e6" stroke-width="1.3"/>
<circle cx="296.4" cy="199.8" r="1.5" fill="#1466e6"/>
<text x="309.6" y="203.3" font-size="10" text-anchor="start" fill="#1a1a1a" color="#1a1a1a">ACF</text>
<text x="285.3" y="213.5" font-size="10" text-anchor="start" fill="#1a1a1a" color="#1a1a1a">BET: 1478 m<tspan font-size="6.2" dy="-3.8">2</tspan><tspan dy="3.8">/g</tspan></text>
<line x1="285.2" y1="250.8" x2="307.2" y2="250.8" stroke="#ff0c0c" stroke-width="1.3"/>
<circle cx="296.4" cy="250.8" r="1.5" fill="#ff0c0c"/>
<text x="309.6" y="254.6" font-size="10" text-anchor="start" fill="#1a1a1a" color="#1a1a1a">ACK</text>
<text x="285.3" y="265.2" font-size="10" text-anchor="start" fill="#1a1a1a" color="#1a1a1a">BET: 873 m<tspan font-size="6.2" dy="-3.8">2</tspan><tspan dy="3.8">/g</tspan></text>
<line x1="285.2" y1="301.9" x2="307.2" y2="301.9" stroke="#111" stroke-width="1.3"/>
<circle cx="296.4" cy="301.9" r="1.5" fill="#111"/>
<text x="309.6" y="305.4" font-size="10" text-anchor="start" fill="#1a1a1a" color="#1a1a1a">ACR</text>
<text x="285.3" y="314.5" font-size="10" text-anchor="start" fill="#1a1a1a" color="#1a1a1a">BET: 36.8 m<tspan font-size="6.2" dy="-3.8">2</tspan><tspan dy="3.8">/g</tspan></text>
<text x="3.7" y="375.9" font-size="17.5" text-anchor="start" fill="#111" color="#111" style="stroke-width:0.1px">(e)</text>
<line x1="29.6" y1="522.2" x2="29.6" y2="524.7" stroke="#858585" stroke-width="1.0"/>
<text x="29.6" y="532.7" font-size="8.2" text-anchor="middle" fill="#1a1a1a" color="#1a1a1a">0</text>
<line x1="59.9" y1="522.2" x2="59.9" y2="524.7" stroke="#858585" stroke-width="1.0"/>
<text x="59.9" y="532.7" font-size="8.2" text-anchor="middle" fill="#1a1a1a" color="#1a1a1a">3</text>
<line x1="90.2" y1="522.2" x2="90.2" y2="524.7" stroke="#858585" stroke-width="1.0"/>
<text x="90.2" y="532.7" font-size="8.2" text-anchor="middle" fill="#1a1a1a" color="#1a1a1a">6</text>
<line x1="120.5" y1="522.2" x2="120.5" y2="524.7" stroke="#858585" stroke-width="1.0"/>
<text x="120.5" y="532.7" font-size="8.2" text-anchor="middle" fill="#1a1a1a" color="#1a1a1a">9</text>
<line x1="150.8" y1="522.2" x2="150.8" y2="524.7" stroke="#858585" stroke-width="1.0"/>
<text x="150.8" y="532.7" font-size="8.2" text-anchor="middle" fill="#1a1a1a" color="#1a1a1a">12</text>
<line x1="181.1" y1="522.2" x2="181.1" y2="524.7" stroke="#858585" stroke-width="1.0"/>
<text x="181.1" y="532.7" font-size="8.2" text-anchor="middle" fill="#1a1a1a" color="#1a1a1a">15</text>
<line x1="211.4" y1="522.2" x2="211.4" y2="524.7" stroke="#858585" stroke-width="1.0"/>
<text x="211.4" y="532.7" font-size="8.2" text-anchor="middle" fill="#1a1a1a" color="#1a1a1a">18</text>
<line x1="44.8" y1="522.2" x2="44.8" y2="523.7" stroke="#858585" stroke-width="1.0"/>
<line x1="75" y1="522.2" x2="75" y2="523.7" stroke="#858585" stroke-width="1.0"/>
<line x1="105.3" y1="522.2" x2="105.3" y2="523.7" stroke="#858585" stroke-width="1.0"/>
<line x1="135.7" y1="522.2" x2="135.7" y2="523.7" stroke="#858585" stroke-width="1.0"/>
<line x1="165.9" y1="522.2" x2="165.9" y2="523.7" stroke="#858585" stroke-width="1.0"/>
<line x1="196.2" y1="522.2" x2="196.2" y2="523.7" stroke="#858585" stroke-width="1.0"/>
<line x1="226.5" y1="522.2" x2="226.5" y2="523.7" stroke="#858585" stroke-width="1.0"/>
<text x="130.4" y="540.6" font-size="9.5" text-anchor="middle" fill="#1a1a1a" color="#1a1a1a">Pore Diameter (nm)</text>
<text transform="translate(24.3 447.3) rotate(-90)" font-size="9.3" text-anchor="middle" fill="#1a1a1a" color="#1a1a1a">dV/dr/cm<tspan font-size="5.8" dy="-3.4">3</tspan><tspan dy="3.4">/g/nm</tspan></text>
<path d="M63.5 436.5 L68 391 L72.4 482.8 L78.5 490.1 L86.2 495 L95.8 499.5 L109 501.9 L126.3 505 L154.6 507.2 L208.1 509.2 L232 509.7" fill="none" stroke="#ff0c0c" stroke-width="1.3" stroke-linejoin="round"/>
<circle cx="63.5" cy="436.5" r="2.0" fill="#ff0c0c"/>
<circle cx="68" cy="391" r="2.0" fill="#ff0c0c"/>
<circle cx="72.4" cy="482.8" r="2.0" fill="#ff0c0c"/>
<circle cx="78.5" cy="490.1" r="2.0" fill="#ff0c0c"/>
<circle cx="86.2" cy="495" r="2.0" fill="#ff0c0c"/>
<circle cx="95.8" cy="499.5" r="2.0" fill="#ff0c0c"/>
<circle cx="109" cy="501.9" r="2.0" fill="#ff0c0c"/>
<circle cx="126.3" cy="505" r="2.0" fill="#ff0c0c"/>
<circle cx="154.6" cy="507.2" r="2.0" fill="#ff0c0c"/>
<circle cx="208.1" cy="509.2" r="2.0" fill="#ff0c0c"/>
<rect x="29.5" y="373.5" width="202.5" height="148.7" fill="none" stroke="#858585" stroke-width="1.0"/>
<text x="80.4" y="403.9" font-size="9.9" text-anchor="start" fill="#1a1a1a" color="#1a1a1a">3.8 nm</text>
<text x="195.1" y="390.8" font-size="9.3" text-anchor="start" fill="#1a1a1a" color="#1a1a1a">ACK</text>
<text x="239.2" y="375.9" font-size="17.5" text-anchor="start" fill="#111" color="#111" style="stroke-width:0.1px">(f)</text>
<line x1="279.3" y1="522.2" x2="279.3" y2="524.7" stroke="#858585" stroke-width="1.0"/>
<text x="279.3" y="532.6" font-size="8.2" text-anchor="middle" fill="#1a1a1a" color="#1a1a1a">0</text>
<line x1="309.4" y1="522.2" x2="309.4" y2="524.7" stroke="#858585" stroke-width="1.0"/>
<text x="309.4" y="532.6" font-size="8.2" text-anchor="middle" fill="#1a1a1a" color="#1a1a1a">3</text>
<line x1="339.6" y1="522.2" x2="339.6" y2="524.7" stroke="#858585" stroke-width="1.0"/>
<text x="339.6" y="532.6" font-size="8.2" text-anchor="middle" fill="#1a1a1a" color="#1a1a1a">6</text>
<line x1="369.8" y1="522.2" x2="369.8" y2="524.7" stroke="#858585" stroke-width="1.0"/>
<text x="369.8" y="532.6" font-size="8.2" text-anchor="middle" fill="#1a1a1a" color="#1a1a1a">9</text>
<line x1="399.9" y1="522.2" x2="399.9" y2="524.7" stroke="#858585" stroke-width="1.0"/>
<text x="399.9" y="532.6" font-size="8.2" text-anchor="middle" fill="#1a1a1a" color="#1a1a1a">12</text>
<line x1="430.1" y1="522.2" x2="430.1" y2="524.7" stroke="#858585" stroke-width="1.0"/>
<text x="430.1" y="532.6" font-size="8.2" text-anchor="middle" fill="#1a1a1a" color="#1a1a1a">15</text>
<line x1="460.2" y1="522.2" x2="460.2" y2="524.7" stroke="#858585" stroke-width="1.0"/>
<text x="460.2" y="532.6" font-size="8.2" text-anchor="middle" fill="#1a1a1a" color="#1a1a1a">18</text>
<line x1="294.4" y1="522.2" x2="294.4" y2="523.7" stroke="#858585" stroke-width="1.0"/>
<line x1="324.5" y1="522.2" x2="324.5" y2="523.7" stroke="#858585" stroke-width="1.0"/>
<line x1="354.7" y1="522.2" x2="354.7" y2="523.7" stroke="#858585" stroke-width="1.0"/>
<line x1="384.8" y1="522.2" x2="384.8" y2="523.7" stroke="#858585" stroke-width="1.0"/>
<line x1="415" y1="522.2" x2="415" y2="523.7" stroke="#858585" stroke-width="1.0"/>
<line x1="445.1" y1="522.2" x2="445.1" y2="523.7" stroke="#858585" stroke-width="1.0"/>
<line x1="475.3" y1="522.2" x2="475.3" y2="523.7" stroke="#858585" stroke-width="1.0"/>
<text x="379.3" y="541.3" font-size="10.8" text-anchor="middle" fill="#1a1a1a" color="#1a1a1a">Pore Diameter (nm)</text>
<text transform="translate(272.2 448.2) rotate(-90)" font-size="9.8" text-anchor="middle" fill="#1a1a1a" color="#1a1a1a">dV/dr/cm<tspan font-size="6.1" dy="-3.4">3</tspan><tspan dy="3.4">/g/nm</tspan></text>
<path d="M309.5 427.5 L313.3 387.8 L317.8 415.2 L322.4 470.8 L328.5 495.7 L335.8 502.4 L345.8 505.3 L359 507.3 L376.8 508.5 L405.1 509.3 L457.8 510.1 L480.4 510.3" fill="none" stroke="#1a72ee" stroke-width="1.3" stroke-linejoin="round"/>
<circle cx="309.5" cy="427.5" r="2.0" fill="#1a72ee"/>
<circle cx="313.3" cy="387.8" r="2.0" fill="#1a72ee"/>
<circle cx="317.8" cy="415.2" r="2.0" fill="#1a72ee"/>
<circle cx="322.4" cy="470.8" r="2.0" fill="#1a72ee"/>
<circle cx="328.5" cy="495.7" r="2.0" fill="#1a72ee"/>
<circle cx="335.8" cy="502.4" r="2.0" fill="#1a72ee"/>
<circle cx="345.8" cy="505.3" r="2.0" fill="#1a72ee"/>
<circle cx="359" cy="507.3" r="2.0" fill="#1a72ee"/>
<circle cx="376.8" cy="508.5" r="2.0" fill="#1a72ee"/>
<circle cx="405.1" cy="509.3" r="2.0" fill="#1a72ee"/>
<circle cx="457.8" cy="510.1" r="2.0" fill="#1a72ee"/>
<rect x="279.2" y="374.2" width="201.3" height="148" fill="none" stroke="#858585" stroke-width="1.0"/>
<text x="322" y="403.8" font-size="11.2" text-anchor="start" fill="#1a1a1a" color="#1a1a1a">3.4 nm</text>
<text x="445.5" y="391.8" font-size="10.9" text-anchor="start" fill="#1a1a1a" color="#1a1a1a">ACF</text>
</svg>
</body></html>
